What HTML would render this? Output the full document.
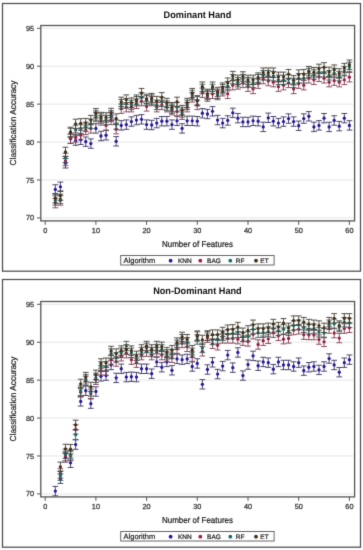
<!DOCTYPE html>
<html><head><meta charset="utf-8"><title>Classification Accuracy</title>
<style>html,body{margin:0;padding:0;background:#fff;}body{width:363px;height:550px;overflow:hidden;}svg{display:block;}</style>
</head><body>
<svg width="363" height="550" viewBox="0 0 363 550" font-family="'Liberation Sans', Arial, sans-serif" text-rendering="geometricPrecision">
<defs><filter id="sm" x="0" y="0" width="1" height="1" color-interpolation-filters="sRGB"><feConvolveMatrix order="3" kernelMatrix="0.0114 0.0842 0.0114 0.0842 0.6176 0.0842 0.0114 0.0842 0.0114" edgeMode="duplicate" preserveAlpha="true"/></filter></defs>
<rect width="363" height="550" fill="#fff"/>
<g filter="url(#sm)">
<rect width="363" height="550" fill="#fff"/>
<rect x="2.5" y="3.5" width="358" height="267.7" fill="none" stroke="#4e4e4e" stroke-width="1.25"/>
<text transform="translate(197.4 18.1) scale(0.955 1)" font-size="9.6" font-weight="bold" text-anchor="middle" fill="#111">Dominant Hand</text>
<line x1="41.8" x2="353.6" y1="217.90" y2="217.90" stroke="#e6e6e6" stroke-width="1"/>
<line x1="41.8" x2="353.6" y1="179.98" y2="179.98" stroke="#e6e6e6" stroke-width="1"/>
<line x1="41.8" x2="353.6" y1="142.06" y2="142.06" stroke="#e6e6e6" stroke-width="1"/>
<line x1="41.8" x2="353.6" y1="104.14" y2="104.14" stroke="#e6e6e6" stroke-width="1"/>
<line x1="41.8" x2="353.6" y1="66.22" y2="66.22" stroke="#e6e6e6" stroke-width="1"/>
<line x1="41.8" x2="353.6" y1="28.30" y2="28.30" stroke="#e6e6e6" stroke-width="1"/>
<path d="M55.34 184.76V194.16M52.44 184.76H58.24M52.44 194.16H58.24" stroke="#393560" stroke-width="0.9" fill="none"/>
<path d="M60.41 182.10V191.51M57.51 182.10H63.31M57.51 191.51H63.31" stroke="#393560" stroke-width="0.9" fill="none"/>
<path d="M65.48 158.59V168.00M62.58 158.59H68.38M62.58 168.00H68.38" stroke="#393560" stroke-width="0.9" fill="none"/>
<path d="M70.55 133.95V143.35M67.65 133.95H73.45M67.65 143.35H73.45" stroke="#393560" stroke-width="0.9" fill="none"/>
<path d="M75.62 135.84V145.25M72.72 135.84H78.52M72.72 145.25H78.52" stroke="#393560" stroke-width="0.9" fill="none"/>
<path d="M80.69 135.08V144.49M77.79 135.08H83.59M77.79 144.49H83.59" stroke="#393560" stroke-width="0.9" fill="none"/>
<path d="M85.76 136.98V146.38M82.86 136.98H88.66M82.86 146.38H88.66" stroke="#393560" stroke-width="0.9" fill="none"/>
<path d="M90.83 138.87V148.28M87.93 138.87H93.73M87.93 148.28H93.73" stroke="#393560" stroke-width="0.9" fill="none"/>
<path d="M95.90 123.71V133.11M93.00 123.71H98.80M93.00 133.11H98.80" stroke="#393560" stroke-width="0.9" fill="none"/>
<path d="M100.97 131.29V140.69M98.07 131.29H103.87M98.07 140.69H103.87" stroke="#393560" stroke-width="0.9" fill="none"/>
<path d="M106.04 130.53V139.94M103.14 130.53H108.94M103.14 139.94H108.94" stroke="#393560" stroke-width="0.9" fill="none"/>
<path d="M111.11 110.81V120.22M108.21 110.81H114.01M108.21 120.22H114.01" stroke="#393560" stroke-width="0.9" fill="none"/>
<path d="M116.18 136.60V146.00M113.28 136.60H119.08M113.28 146.00H119.08" stroke="#393560" stroke-width="0.9" fill="none"/>
<path d="M121.25 120.67V130.08M118.35 120.67H124.15M118.35 130.08H124.15" stroke="#393560" stroke-width="0.9" fill="none"/>
<path d="M126.32 119.91V129.32M123.42 119.91H129.22M123.42 129.32H129.22" stroke="#393560" stroke-width="0.9" fill="none"/>
<path d="M131.39 116.88V126.29M128.49 116.88H134.29M128.49 126.29H134.29" stroke="#393560" stroke-width="0.9" fill="none"/>
<path d="M136.46 115.36V124.77M133.56 115.36H139.36M133.56 124.77H139.36" stroke="#393560" stroke-width="0.9" fill="none"/>
<path d="M141.53 114.61V124.01M138.63 114.61H144.43M138.63 124.01H144.43" stroke="#393560" stroke-width="0.9" fill="none"/>
<path d="M146.60 119.91V129.32M143.70 119.91H149.50M143.70 129.32H149.50" stroke="#393560" stroke-width="0.9" fill="none"/>
<path d="M151.67 120.29V129.70M148.77 120.29H154.57M148.77 129.70H154.57" stroke="#393560" stroke-width="0.9" fill="none"/>
<path d="M156.74 118.40V127.80M153.84 118.40H159.64M153.84 127.80H159.64" stroke="#393560" stroke-width="0.9" fill="none"/>
<path d="M161.81 116.50V125.91M158.91 116.50H164.71M158.91 125.91H164.71" stroke="#393560" stroke-width="0.9" fill="none"/>
<path d="M166.88 116.50V125.91M163.98 116.50H169.78M163.98 125.91H169.78" stroke="#393560" stroke-width="0.9" fill="none"/>
<path d="M171.95 119.91V129.32M169.05 119.91H174.85M169.05 129.32H174.85" stroke="#393560" stroke-width="0.9" fill="none"/>
<path d="M177.02 116.12V125.53M174.12 116.12H179.92M174.12 125.53H179.92" stroke="#393560" stroke-width="0.9" fill="none"/>
<path d="M182.09 123.71V133.11M179.19 123.71H184.99M179.19 133.11H184.99" stroke="#393560" stroke-width="0.9" fill="none"/>
<path d="M187.16 116.12V125.53M184.26 116.12H190.06M184.26 125.53H190.06" stroke="#393560" stroke-width="0.9" fill="none"/>
<path d="M192.23 116.12V125.53M189.33 116.12H195.13M189.33 125.53H195.13" stroke="#393560" stroke-width="0.9" fill="none"/>
<path d="M197.30 116.50V125.91M194.40 116.50H200.20M194.40 125.91H200.20" stroke="#393560" stroke-width="0.9" fill="none"/>
<path d="M202.37 108.54V117.94M199.47 108.54H205.27M199.47 117.94H205.27" stroke="#393560" stroke-width="0.9" fill="none"/>
<path d="M207.44 109.30V118.70M204.54 109.30H210.34M204.54 118.70H210.34" stroke="#393560" stroke-width="0.9" fill="none"/>
<path d="M212.51 106.64V116.05M209.61 106.64H215.41M209.61 116.05H215.41" stroke="#393560" stroke-width="0.9" fill="none"/>
<path d="M217.58 115.36V124.77M214.68 115.36H220.48M214.68 124.77H220.48" stroke="#393560" stroke-width="0.9" fill="none"/>
<path d="M222.65 118.40V127.80M219.75 118.40H225.55M219.75 127.80H225.55" stroke="#393560" stroke-width="0.9" fill="none"/>
<path d="M227.72 115.74V125.15M224.82 115.74H230.62M224.82 125.15H230.62" stroke="#393560" stroke-width="0.9" fill="none"/>
<path d="M232.79 108.16V117.56M229.89 108.16H235.69M229.89 117.56H235.69" stroke="#393560" stroke-width="0.9" fill="none"/>
<path d="M237.86 113.47V122.87M234.96 113.47H240.76M234.96 122.87H240.76" stroke="#393560" stroke-width="0.9" fill="none"/>
<path d="M242.93 117.26V126.66M240.03 117.26H245.83M240.03 126.66H245.83" stroke="#393560" stroke-width="0.9" fill="none"/>
<path d="M248.00 117.26V126.66M245.10 117.26H250.90M245.10 126.66H250.90" stroke="#393560" stroke-width="0.9" fill="none"/>
<path d="M253.07 116.12V125.53M250.17 116.12H255.97M250.17 125.53H255.97" stroke="#393560" stroke-width="0.9" fill="none"/>
<path d="M258.14 116.50V125.91M255.24 116.50H261.04M255.24 125.91H261.04" stroke="#393560" stroke-width="0.9" fill="none"/>
<path d="M263.21 122.19V131.59M260.31 122.19H266.11M260.31 131.59H266.11" stroke="#393560" stroke-width="0.9" fill="none"/>
<path d="M268.28 113.09V122.49M265.38 113.09H271.18M265.38 122.49H271.18" stroke="#393560" stroke-width="0.9" fill="none"/>
<path d="M273.35 116.50V125.91M270.45 116.50H276.25M270.45 125.91H276.25" stroke="#393560" stroke-width="0.9" fill="none"/>
<path d="M278.42 118.40V127.80M275.52 118.40H281.32M275.52 127.80H281.32" stroke="#393560" stroke-width="0.9" fill="none"/>
<path d="M283.49 116.88V126.29M280.59 116.88H286.39M280.59 126.29H286.39" stroke="#393560" stroke-width="0.9" fill="none"/>
<path d="M288.56 113.85V123.25M285.66 113.85H291.46M285.66 123.25H291.46" stroke="#393560" stroke-width="0.9" fill="none"/>
<path d="M293.63 116.88V126.29M290.73 116.88H296.53M290.73 126.29H296.53" stroke="#393560" stroke-width="0.9" fill="none"/>
<path d="M298.70 121.05V130.46M295.80 121.05H301.60M295.80 130.46H301.60" stroke="#393560" stroke-width="0.9" fill="none"/>
<path d="M303.77 113.85V123.25M300.87 113.85H306.67M300.87 123.25H306.67" stroke="#393560" stroke-width="0.9" fill="none"/>
<path d="M308.84 111.57V120.98M305.94 111.57H311.74M305.94 120.98H311.74" stroke="#393560" stroke-width="0.9" fill="none"/>
<path d="M313.91 122.19V131.59M311.01 122.19H316.81M311.01 131.59H316.81" stroke="#393560" stroke-width="0.9" fill="none"/>
<path d="M318.98 120.67V130.08M316.08 120.67H321.88M316.08 130.08H321.88" stroke="#393560" stroke-width="0.9" fill="none"/>
<path d="M324.05 113.47V122.87M321.15 113.47H326.95M321.15 122.87H326.95" stroke="#393560" stroke-width="0.9" fill="none"/>
<path d="M329.12 122.19V131.59M326.22 122.19H332.02M326.22 131.59H332.02" stroke="#393560" stroke-width="0.9" fill="none"/>
<path d="M334.19 115.74V125.15M331.29 115.74H337.09M331.29 125.15H337.09" stroke="#393560" stroke-width="0.9" fill="none"/>
<path d="M339.26 121.43V130.84M336.36 121.43H342.16M336.36 130.84H342.16" stroke="#393560" stroke-width="0.9" fill="none"/>
<path d="M344.33 113.47V122.87M341.43 113.47H347.23M341.43 122.87H347.23" stroke="#393560" stroke-width="0.9" fill="none"/>
<path d="M349.40 120.67V130.08M346.50 120.67H352.30M346.50 130.08H352.30" stroke="#393560" stroke-width="0.9" fill="none"/>
<circle cx="55.34" cy="189.46" r="1.65" fill="#2418a0"/>
<circle cx="60.41" cy="186.81" r="1.65" fill="#2418a0"/>
<circle cx="65.48" cy="163.30" r="1.65" fill="#2418a0"/>
<circle cx="70.55" cy="138.65" r="1.65" fill="#2418a0"/>
<circle cx="75.62" cy="140.54" r="1.65" fill="#2418a0"/>
<circle cx="80.69" cy="139.78" r="1.65" fill="#2418a0"/>
<circle cx="85.76" cy="141.68" r="1.65" fill="#2418a0"/>
<circle cx="90.83" cy="143.58" r="1.65" fill="#2418a0"/>
<circle cx="95.90" cy="128.41" r="1.65" fill="#2418a0"/>
<circle cx="100.97" cy="135.99" r="1.65" fill="#2418a0"/>
<circle cx="106.04" cy="135.23" r="1.65" fill="#2418a0"/>
<circle cx="111.11" cy="115.52" r="1.65" fill="#2418a0"/>
<circle cx="116.18" cy="141.30" r="1.65" fill="#2418a0"/>
<circle cx="121.25" cy="125.38" r="1.65" fill="#2418a0"/>
<circle cx="126.32" cy="124.62" r="1.65" fill="#2418a0"/>
<circle cx="131.39" cy="121.58" r="1.65" fill="#2418a0"/>
<circle cx="136.46" cy="120.07" r="1.65" fill="#2418a0"/>
<circle cx="141.53" cy="119.31" r="1.65" fill="#2418a0"/>
<circle cx="146.60" cy="124.62" r="1.65" fill="#2418a0"/>
<circle cx="151.67" cy="125.00" r="1.65" fill="#2418a0"/>
<circle cx="156.74" cy="123.10" r="1.65" fill="#2418a0"/>
<circle cx="161.81" cy="121.20" r="1.65" fill="#2418a0"/>
<circle cx="166.88" cy="121.20" r="1.65" fill="#2418a0"/>
<circle cx="171.95" cy="124.62" r="1.65" fill="#2418a0"/>
<circle cx="177.02" cy="120.82" r="1.65" fill="#2418a0"/>
<circle cx="182.09" cy="128.41" r="1.65" fill="#2418a0"/>
<circle cx="187.16" cy="120.82" r="1.65" fill="#2418a0"/>
<circle cx="192.23" cy="120.82" r="1.65" fill="#2418a0"/>
<circle cx="197.30" cy="121.20" r="1.65" fill="#2418a0"/>
<circle cx="202.37" cy="113.24" r="1.65" fill="#2418a0"/>
<circle cx="207.44" cy="114.00" r="1.65" fill="#2418a0"/>
<circle cx="212.51" cy="111.34" r="1.65" fill="#2418a0"/>
<circle cx="217.58" cy="120.07" r="1.65" fill="#2418a0"/>
<circle cx="222.65" cy="123.10" r="1.65" fill="#2418a0"/>
<circle cx="227.72" cy="120.45" r="1.65" fill="#2418a0"/>
<circle cx="232.79" cy="112.86" r="1.65" fill="#2418a0"/>
<circle cx="237.86" cy="118.17" r="1.65" fill="#2418a0"/>
<circle cx="242.93" cy="121.96" r="1.65" fill="#2418a0"/>
<circle cx="248.00" cy="121.96" r="1.65" fill="#2418a0"/>
<circle cx="253.07" cy="120.82" r="1.65" fill="#2418a0"/>
<circle cx="258.14" cy="121.20" r="1.65" fill="#2418a0"/>
<circle cx="263.21" cy="126.89" r="1.65" fill="#2418a0"/>
<circle cx="268.28" cy="117.79" r="1.65" fill="#2418a0"/>
<circle cx="273.35" cy="121.20" r="1.65" fill="#2418a0"/>
<circle cx="278.42" cy="123.10" r="1.65" fill="#2418a0"/>
<circle cx="283.49" cy="121.58" r="1.65" fill="#2418a0"/>
<circle cx="288.56" cy="118.55" r="1.65" fill="#2418a0"/>
<circle cx="293.63" cy="121.58" r="1.65" fill="#2418a0"/>
<circle cx="298.70" cy="125.75" r="1.65" fill="#2418a0"/>
<circle cx="303.77" cy="118.55" r="1.65" fill="#2418a0"/>
<circle cx="308.84" cy="116.27" r="1.65" fill="#2418a0"/>
<circle cx="313.91" cy="126.89" r="1.65" fill="#2418a0"/>
<circle cx="318.98" cy="125.38" r="1.65" fill="#2418a0"/>
<circle cx="324.05" cy="118.17" r="1.65" fill="#2418a0"/>
<circle cx="329.12" cy="126.89" r="1.65" fill="#2418a0"/>
<circle cx="334.19" cy="120.45" r="1.65" fill="#2418a0"/>
<circle cx="339.26" cy="126.13" r="1.65" fill="#2418a0"/>
<circle cx="344.33" cy="118.17" r="1.65" fill="#2418a0"/>
<circle cx="349.40" cy="125.38" r="1.65" fill="#2418a0"/>
<path d="M55.34 198.41V207.81M52.44 198.41H58.24M52.44 207.81H58.24" stroke="#7e3c4c" stroke-width="0.9" fill="none"/>
<path d="M60.41 195.75V205.16M57.51 195.75H63.31M57.51 205.16H63.31" stroke="#7e3c4c" stroke-width="0.9" fill="none"/>
<path d="M65.48 156.32V165.72M62.58 156.32H68.38M62.58 165.72H68.38" stroke="#7e3c4c" stroke-width="0.9" fill="none"/>
<path d="M70.55 134.02V143.43M67.65 134.02H73.45M67.65 143.43H73.45" stroke="#7e3c4c" stroke-width="0.9" fill="none"/>
<path d="M75.62 132.81V142.21M72.72 132.81H78.52M72.72 142.21H78.52" stroke="#7e3c4c" stroke-width="0.9" fill="none"/>
<path d="M80.69 130.30V139.71M77.79 130.30H83.59M77.79 139.71H83.59" stroke="#7e3c4c" stroke-width="0.9" fill="none"/>
<path d="M85.76 125.22V134.63M82.86 125.22H88.66M82.86 134.63H88.66" stroke="#7e3c4c" stroke-width="0.9" fill="none"/>
<path d="M90.83 123.71V133.11M87.93 123.71H93.73M87.93 133.11H93.73" stroke="#7e3c4c" stroke-width="0.9" fill="none"/>
<path d="M95.90 112.33V121.73M93.00 112.33H98.80M93.00 121.73H98.80" stroke="#7e3c4c" stroke-width="0.9" fill="none"/>
<path d="M100.97 115.74V125.15M98.07 115.74H103.87M98.07 125.15H103.87" stroke="#7e3c4c" stroke-width="0.9" fill="none"/>
<path d="M106.04 120.67V130.08M103.14 120.67H108.94M103.14 130.08H108.94" stroke="#7e3c4c" stroke-width="0.9" fill="none"/>
<path d="M111.11 115.21V124.62M108.21 115.21H114.01M108.21 124.62H114.01" stroke="#7e3c4c" stroke-width="0.9" fill="none"/>
<path d="M116.18 124.47V133.87M113.28 124.47H119.08M113.28 133.87H119.08" stroke="#7e3c4c" stroke-width="0.9" fill="none"/>
<path d="M121.25 103.99V113.39M118.35 103.99H124.15M118.35 113.39H124.15" stroke="#7e3c4c" stroke-width="0.9" fill="none"/>
<path d="M126.32 102.47V111.88M123.42 102.47H129.22M123.42 111.88H129.22" stroke="#7e3c4c" stroke-width="0.9" fill="none"/>
<path d="M131.39 102.47V111.88M128.49 102.47H134.29M128.49 111.88H134.29" stroke="#7e3c4c" stroke-width="0.9" fill="none"/>
<path d="M136.46 99.06V108.46M133.56 99.06H139.36M133.56 108.46H139.36" stroke="#7e3c4c" stroke-width="0.9" fill="none"/>
<path d="M141.53 96.40V105.81M138.63 96.40H144.43M138.63 105.81H144.43" stroke="#7e3c4c" stroke-width="0.9" fill="none"/>
<path d="M146.60 101.71V111.12M143.70 101.71H149.50M143.70 111.12H149.50" stroke="#7e3c4c" stroke-width="0.9" fill="none"/>
<path d="M151.67 96.40V105.81M148.77 96.40H154.57M148.77 105.81H154.57" stroke="#7e3c4c" stroke-width="0.9" fill="none"/>
<path d="M156.74 102.47V111.88M153.84 102.47H159.64M153.84 111.88H159.64" stroke="#7e3c4c" stroke-width="0.9" fill="none"/>
<path d="M161.81 100.20V109.60M158.91 100.20H164.71M158.91 109.60H164.71" stroke="#7e3c4c" stroke-width="0.9" fill="none"/>
<path d="M166.88 102.47V111.88M163.98 102.47H169.78M163.98 111.88H169.78" stroke="#7e3c4c" stroke-width="0.9" fill="none"/>
<path d="M171.95 105.51V114.91M169.05 105.51H174.85M169.05 114.91H174.85" stroke="#7e3c4c" stroke-width="0.9" fill="none"/>
<path d="M177.02 106.64V116.05M174.12 106.64H179.92M174.12 116.05H179.92" stroke="#7e3c4c" stroke-width="0.9" fill="none"/>
<path d="M182.09 110.06V119.46M179.19 110.06H184.99M179.19 119.46H184.99" stroke="#7e3c4c" stroke-width="0.9" fill="none"/>
<path d="M187.16 102.47V111.88M184.26 102.47H190.06M184.26 111.88H190.06" stroke="#7e3c4c" stroke-width="0.9" fill="none"/>
<path d="M192.23 92.61V102.02M189.33 92.61H195.13M189.33 102.02H195.13" stroke="#7e3c4c" stroke-width="0.9" fill="none"/>
<path d="M197.30 100.20V109.60M194.40 100.20H200.20M194.40 109.60H200.20" stroke="#7e3c4c" stroke-width="0.9" fill="none"/>
<path d="M202.37 88.06V97.47M199.47 88.06H205.27M199.47 97.47H205.27" stroke="#7e3c4c" stroke-width="0.9" fill="none"/>
<path d="M207.44 91.85V101.26M204.54 91.85H210.34M204.54 101.26H210.34" stroke="#7e3c4c" stroke-width="0.9" fill="none"/>
<path d="M212.51 89.20V98.60M209.61 89.20H215.41M209.61 98.60H215.41" stroke="#7e3c4c" stroke-width="0.9" fill="none"/>
<path d="M217.58 90.34V99.74M214.68 90.34H220.48M214.68 99.74H220.48" stroke="#7e3c4c" stroke-width="0.9" fill="none"/>
<path d="M222.65 86.55V95.95M219.75 86.55H225.55M219.75 95.95H225.55" stroke="#7e3c4c" stroke-width="0.9" fill="none"/>
<path d="M227.72 89.12V98.53M224.82 89.12H230.62M224.82 98.53H230.62" stroke="#7e3c4c" stroke-width="0.9" fill="none"/>
<path d="M232.79 80.48V89.88M229.89 80.48H235.69M229.89 89.88H235.69" stroke="#7e3c4c" stroke-width="0.9" fill="none"/>
<path d="M237.86 79.72V89.12M234.96 79.72H240.76M234.96 89.12H240.76" stroke="#7e3c4c" stroke-width="0.9" fill="none"/>
<path d="M242.93 78.20V87.61M240.03 78.20H245.83M240.03 87.61H245.83" stroke="#7e3c4c" stroke-width="0.9" fill="none"/>
<path d="M248.00 81.99V91.40M245.10 81.99H250.90M245.10 91.40H250.90" stroke="#7e3c4c" stroke-width="0.9" fill="none"/>
<path d="M253.07 84.27V93.67M250.17 84.27H255.97M250.17 93.67H255.97" stroke="#7e3c4c" stroke-width="0.9" fill="none"/>
<path d="M258.14 78.96V88.37M255.24 78.96H261.04M255.24 88.37H261.04" stroke="#7e3c4c" stroke-width="0.9" fill="none"/>
<path d="M263.21 74.41V83.81M260.31 74.41H266.11M260.31 83.81H266.11" stroke="#7e3c4c" stroke-width="0.9" fill="none"/>
<path d="M268.28 76.31V85.71M265.38 76.31H271.18M265.38 85.71H271.18" stroke="#7e3c4c" stroke-width="0.9" fill="none"/>
<path d="M273.35 77.44V86.85M270.45 77.44H276.25M270.45 86.85H276.25" stroke="#7e3c4c" stroke-width="0.9" fill="none"/>
<path d="M278.42 81.99V91.40M275.52 81.99H281.32M275.52 91.40H281.32" stroke="#7e3c4c" stroke-width="0.9" fill="none"/>
<path d="M283.49 80.48V89.88M280.59 80.48H286.39M280.59 89.88H286.39" stroke="#7e3c4c" stroke-width="0.9" fill="none"/>
<path d="M288.56 78.20V87.61M285.66 78.20H291.46M285.66 87.61H291.46" stroke="#7e3c4c" stroke-width="0.9" fill="none"/>
<path d="M293.63 84.27V93.67M290.73 84.27H296.53M290.73 93.67H296.53" stroke="#7e3c4c" stroke-width="0.9" fill="none"/>
<path d="M298.70 78.96V88.37M295.80 78.96H301.60M295.80 88.37H301.60" stroke="#7e3c4c" stroke-width="0.9" fill="none"/>
<path d="M303.77 80.48V89.88M300.87 80.48H306.67M300.87 89.88H306.67" stroke="#7e3c4c" stroke-width="0.9" fill="none"/>
<path d="M308.84 73.65V83.06M305.94 73.65H311.74M305.94 83.06H311.74" stroke="#7e3c4c" stroke-width="0.9" fill="none"/>
<path d="M313.91 75.17V84.57M311.01 75.17H316.81M311.01 84.57H316.81" stroke="#7e3c4c" stroke-width="0.9" fill="none"/>
<path d="M318.98 72.14V81.54M316.08 72.14H321.88M316.08 81.54H321.88" stroke="#7e3c4c" stroke-width="0.9" fill="none"/>
<path d="M324.05 73.65V83.06M321.15 73.65H326.95M321.15 83.06H326.95" stroke="#7e3c4c" stroke-width="0.9" fill="none"/>
<path d="M329.12 77.44V86.85M326.22 77.44H332.02M326.22 86.85H332.02" stroke="#7e3c4c" stroke-width="0.9" fill="none"/>
<path d="M334.19 75.93V85.33M331.29 75.93H337.09M331.29 85.33H337.09" stroke="#7e3c4c" stroke-width="0.9" fill="none"/>
<path d="M339.26 77.44V86.85M336.36 77.44H342.16M336.36 86.85H342.16" stroke="#7e3c4c" stroke-width="0.9" fill="none"/>
<path d="M344.33 75.17V84.57M341.43 75.17H347.23M341.43 84.57H347.23" stroke="#7e3c4c" stroke-width="0.9" fill="none"/>
<path d="M349.40 72.51V81.92M346.50 72.51H352.30M346.50 81.92H352.30" stroke="#7e3c4c" stroke-width="0.9" fill="none"/>
<circle cx="55.34" cy="203.11" r="1.65" fill="#a01a42"/>
<circle cx="60.41" cy="200.46" r="1.65" fill="#a01a42"/>
<circle cx="65.48" cy="161.02" r="1.65" fill="#a01a42"/>
<circle cx="70.55" cy="138.72" r="1.65" fill="#a01a42"/>
<circle cx="75.62" cy="137.51" r="1.65" fill="#a01a42"/>
<circle cx="80.69" cy="135.01" r="1.65" fill="#a01a42"/>
<circle cx="85.76" cy="129.93" r="1.65" fill="#a01a42"/>
<circle cx="90.83" cy="128.41" r="1.65" fill="#a01a42"/>
<circle cx="95.90" cy="117.03" r="1.65" fill="#a01a42"/>
<circle cx="100.97" cy="120.45" r="1.65" fill="#a01a42"/>
<circle cx="106.04" cy="125.38" r="1.65" fill="#a01a42"/>
<circle cx="111.11" cy="119.91" r="1.65" fill="#a01a42"/>
<circle cx="116.18" cy="129.17" r="1.65" fill="#a01a42"/>
<circle cx="121.25" cy="108.69" r="1.65" fill="#a01a42"/>
<circle cx="126.32" cy="107.17" r="1.65" fill="#a01a42"/>
<circle cx="131.39" cy="107.17" r="1.65" fill="#a01a42"/>
<circle cx="136.46" cy="103.76" r="1.65" fill="#a01a42"/>
<circle cx="141.53" cy="101.11" r="1.65" fill="#a01a42"/>
<circle cx="146.60" cy="106.42" r="1.65" fill="#a01a42"/>
<circle cx="151.67" cy="101.11" r="1.65" fill="#a01a42"/>
<circle cx="156.74" cy="107.17" r="1.65" fill="#a01a42"/>
<circle cx="161.81" cy="104.90" r="1.65" fill="#a01a42"/>
<circle cx="166.88" cy="107.17" r="1.65" fill="#a01a42"/>
<circle cx="171.95" cy="110.21" r="1.65" fill="#a01a42"/>
<circle cx="177.02" cy="111.34" r="1.65" fill="#a01a42"/>
<circle cx="182.09" cy="114.76" r="1.65" fill="#a01a42"/>
<circle cx="187.16" cy="107.17" r="1.65" fill="#a01a42"/>
<circle cx="192.23" cy="97.31" r="1.65" fill="#a01a42"/>
<circle cx="197.30" cy="104.90" r="1.65" fill="#a01a42"/>
<circle cx="202.37" cy="92.76" r="1.65" fill="#a01a42"/>
<circle cx="207.44" cy="96.56" r="1.65" fill="#a01a42"/>
<circle cx="212.51" cy="93.90" r="1.65" fill="#a01a42"/>
<circle cx="217.58" cy="95.04" r="1.65" fill="#a01a42"/>
<circle cx="222.65" cy="91.25" r="1.65" fill="#a01a42"/>
<circle cx="227.72" cy="93.83" r="1.65" fill="#a01a42"/>
<circle cx="232.79" cy="85.18" r="1.65" fill="#a01a42"/>
<circle cx="237.86" cy="84.42" r="1.65" fill="#a01a42"/>
<circle cx="242.93" cy="82.90" r="1.65" fill="#a01a42"/>
<circle cx="248.00" cy="86.70" r="1.65" fill="#a01a42"/>
<circle cx="253.07" cy="88.97" r="1.65" fill="#a01a42"/>
<circle cx="258.14" cy="83.66" r="1.65" fill="#a01a42"/>
<circle cx="263.21" cy="79.11" r="1.65" fill="#a01a42"/>
<circle cx="268.28" cy="81.01" r="1.65" fill="#a01a42"/>
<circle cx="273.35" cy="82.15" r="1.65" fill="#a01a42"/>
<circle cx="278.42" cy="86.70" r="1.65" fill="#a01a42"/>
<circle cx="283.49" cy="85.18" r="1.65" fill="#a01a42"/>
<circle cx="288.56" cy="82.90" r="1.65" fill="#a01a42"/>
<circle cx="293.63" cy="88.97" r="1.65" fill="#a01a42"/>
<circle cx="298.70" cy="83.66" r="1.65" fill="#a01a42"/>
<circle cx="303.77" cy="85.18" r="1.65" fill="#a01a42"/>
<circle cx="308.84" cy="78.35" r="1.65" fill="#a01a42"/>
<circle cx="313.91" cy="79.87" r="1.65" fill="#a01a42"/>
<circle cx="318.98" cy="76.84" r="1.65" fill="#a01a42"/>
<circle cx="324.05" cy="78.35" r="1.65" fill="#a01a42"/>
<circle cx="329.12" cy="82.15" r="1.65" fill="#a01a42"/>
<circle cx="334.19" cy="80.63" r="1.65" fill="#a01a42"/>
<circle cx="339.26" cy="82.15" r="1.65" fill="#a01a42"/>
<circle cx="344.33" cy="79.87" r="1.65" fill="#a01a42"/>
<circle cx="349.40" cy="77.22" r="1.65" fill="#a01a42"/>
<path d="M55.34 195.75V205.16M52.44 195.75H58.24M52.44 205.16H58.24" stroke="#335a56" stroke-width="0.9" fill="none"/>
<path d="M60.41 194.24V203.64M57.51 194.24H63.31M57.51 203.64H63.31" stroke="#335a56" stroke-width="0.9" fill="none"/>
<path d="M65.48 153.28V162.69M62.58 153.28H68.38M62.58 162.69H68.38" stroke="#335a56" stroke-width="0.9" fill="none"/>
<path d="M70.55 128.26V137.66M67.65 128.26H73.45M67.65 137.66H73.45" stroke="#335a56" stroke-width="0.9" fill="none"/>
<path d="M75.62 125.22V134.63M72.72 125.22H78.52M72.72 134.63H78.52" stroke="#335a56" stroke-width="0.9" fill="none"/>
<path d="M80.69 124.09V133.49M77.79 124.09H83.59M77.79 133.49H83.59" stroke="#335a56" stroke-width="0.9" fill="none"/>
<path d="M85.76 122.19V131.59M82.86 122.19H88.66M82.86 131.59H88.66" stroke="#335a56" stroke-width="0.9" fill="none"/>
<path d="M90.83 119.16V128.56M87.93 119.16H93.73M87.93 128.56H93.73" stroke="#335a56" stroke-width="0.9" fill="none"/>
<path d="M95.90 110.81V120.22M93.00 110.81H98.80M93.00 120.22H98.80" stroke="#335a56" stroke-width="0.9" fill="none"/>
<path d="M100.97 113.85V123.25M98.07 113.85H103.87M98.07 123.25H103.87" stroke="#335a56" stroke-width="0.9" fill="none"/>
<path d="M106.04 115.36V124.77M103.14 115.36H108.94M103.14 124.77H108.94" stroke="#335a56" stroke-width="0.9" fill="none"/>
<path d="M111.11 112.33V121.73M108.21 112.33H114.01M108.21 121.73H114.01" stroke="#335a56" stroke-width="0.9" fill="none"/>
<path d="M116.18 119.91V129.32M113.28 119.91H119.08M113.28 129.32H119.08" stroke="#335a56" stroke-width="0.9" fill="none"/>
<path d="M121.25 99.44V108.84M118.35 99.44H124.15M118.35 108.84H124.15" stroke="#335a56" stroke-width="0.9" fill="none"/>
<path d="M126.32 98.68V108.08M123.42 98.68H129.22M123.42 108.08H129.22" stroke="#335a56" stroke-width="0.9" fill="none"/>
<path d="M131.39 100.20V109.60M128.49 100.20H134.29M128.49 109.60H134.29" stroke="#335a56" stroke-width="0.9" fill="none"/>
<path d="M136.46 94.89V104.29M133.56 94.89H139.36M133.56 104.29H139.36" stroke="#335a56" stroke-width="0.9" fill="none"/>
<path d="M141.53 92.61V102.02M138.63 92.61H144.43M138.63 102.02H144.43" stroke="#335a56" stroke-width="0.9" fill="none"/>
<path d="M146.60 95.65V105.05M143.70 95.65H149.50M143.70 105.05H149.50" stroke="#335a56" stroke-width="0.9" fill="none"/>
<path d="M151.67 94.89V104.29M148.77 94.89H154.57M148.77 104.29H154.57" stroke="#335a56" stroke-width="0.9" fill="none"/>
<path d="M156.74 100.20V109.60M153.84 100.20H159.64M153.84 109.60H159.64" stroke="#335a56" stroke-width="0.9" fill="none"/>
<path d="M161.81 97.16V106.57M158.91 97.16H164.71M158.91 106.57H164.71" stroke="#335a56" stroke-width="0.9" fill="none"/>
<path d="M166.88 100.95V110.36M163.98 100.95H169.78M163.98 110.36H169.78" stroke="#335a56" stroke-width="0.9" fill="none"/>
<path d="M171.95 103.99V113.39M169.05 103.99H174.85M169.05 113.39H174.85" stroke="#335a56" stroke-width="0.9" fill="none"/>
<path d="M177.02 102.47V111.88M174.12 102.47H179.92M174.12 111.88H179.92" stroke="#335a56" stroke-width="0.9" fill="none"/>
<path d="M182.09 107.78V117.18M179.19 107.78H184.99M179.19 117.18H184.99" stroke="#335a56" stroke-width="0.9" fill="none"/>
<path d="M187.16 100.20V109.60M184.26 100.20H190.06M184.26 109.60H190.06" stroke="#335a56" stroke-width="0.9" fill="none"/>
<path d="M192.23 90.34V99.74M189.33 90.34H195.13M189.33 99.74H195.13" stroke="#335a56" stroke-width="0.9" fill="none"/>
<path d="M197.30 96.40V105.81M194.40 96.40H200.20M194.40 105.81H200.20" stroke="#335a56" stroke-width="0.9" fill="none"/>
<path d="M202.37 84.27V93.67M199.47 84.27H205.27M199.47 93.67H205.27" stroke="#335a56" stroke-width="0.9" fill="none"/>
<path d="M207.44 90.34V99.74M204.54 90.34H210.34M204.54 99.74H210.34" stroke="#335a56" stroke-width="0.9" fill="none"/>
<path d="M212.51 84.27V93.67M209.61 84.27H215.41M209.61 93.67H215.41" stroke="#335a56" stroke-width="0.9" fill="none"/>
<path d="M217.58 89.12V98.53M214.68 89.12H220.48M214.68 98.53H220.48" stroke="#335a56" stroke-width="0.9" fill="none"/>
<path d="M222.65 84.57V93.98M219.75 84.57H225.55M219.75 93.98H225.55" stroke="#335a56" stroke-width="0.9" fill="none"/>
<path d="M227.72 81.46V90.87M224.82 81.46H230.62M224.82 90.87H230.62" stroke="#335a56" stroke-width="0.9" fill="none"/>
<path d="M232.79 74.41V83.81M229.89 74.41H235.69M229.89 83.81H235.69" stroke="#335a56" stroke-width="0.9" fill="none"/>
<path d="M237.86 77.44V86.85M234.96 77.44H240.76M234.96 86.85H240.76" stroke="#335a56" stroke-width="0.9" fill="none"/>
<path d="M242.93 74.41V83.81M240.03 74.41H245.83M240.03 83.81H245.83" stroke="#335a56" stroke-width="0.9" fill="none"/>
<path d="M248.00 77.44V86.85M245.10 77.44H250.90M245.10 86.85H250.90" stroke="#335a56" stroke-width="0.9" fill="none"/>
<path d="M253.07 78.20V87.61M250.17 78.20H255.97M250.17 87.61H255.97" stroke="#335a56" stroke-width="0.9" fill="none"/>
<path d="M258.14 74.41V83.81M255.24 74.41H261.04M255.24 83.81H261.04" stroke="#335a56" stroke-width="0.9" fill="none"/>
<path d="M263.21 70.62V80.02M260.31 70.62H266.11M260.31 80.02H266.11" stroke="#335a56" stroke-width="0.9" fill="none"/>
<path d="M268.28 70.62V80.02M265.38 70.62H271.18M265.38 80.02H271.18" stroke="#335a56" stroke-width="0.9" fill="none"/>
<path d="M273.35 71.38V80.78M270.45 71.38H276.25M270.45 80.78H276.25" stroke="#335a56" stroke-width="0.9" fill="none"/>
<path d="M278.42 75.17V84.57M275.52 75.17H281.32M275.52 84.57H281.32" stroke="#335a56" stroke-width="0.9" fill="none"/>
<path d="M283.49 75.17V84.57M280.59 75.17H286.39M280.59 84.57H286.39" stroke="#335a56" stroke-width="0.9" fill="none"/>
<path d="M288.56 74.41V83.81M285.66 74.41H291.46M285.66 83.81H291.46" stroke="#335a56" stroke-width="0.9" fill="none"/>
<path d="M293.63 78.20V87.61M290.73 78.20H296.53M290.73 87.61H296.53" stroke="#335a56" stroke-width="0.9" fill="none"/>
<path d="M298.70 73.65V83.06M295.80 73.65H301.60M295.80 83.06H301.60" stroke="#335a56" stroke-width="0.9" fill="none"/>
<path d="M303.77 73.65V83.06M300.87 73.65H306.67M300.87 83.06H306.67" stroke="#335a56" stroke-width="0.9" fill="none"/>
<path d="M308.84 68.34V77.75M305.94 68.34H311.74M305.94 77.75H311.74" stroke="#335a56" stroke-width="0.9" fill="none"/>
<path d="M313.91 69.86V79.26M311.01 69.86H316.81M311.01 79.26H316.81" stroke="#335a56" stroke-width="0.9" fill="none"/>
<path d="M318.98 67.59V76.99M316.08 67.59H321.88M316.08 76.99H321.88" stroke="#335a56" stroke-width="0.9" fill="none"/>
<path d="M324.05 67.59V76.99M321.15 67.59H326.95M321.15 76.99H326.95" stroke="#335a56" stroke-width="0.9" fill="none"/>
<path d="M329.12 70.62V80.02M326.22 70.62H332.02M326.22 80.02H332.02" stroke="#335a56" stroke-width="0.9" fill="none"/>
<path d="M334.19 68.34V77.75M331.29 68.34H337.09M331.29 77.75H337.09" stroke="#335a56" stroke-width="0.9" fill="none"/>
<path d="M339.26 71.38V80.78M336.36 71.38H342.16M336.36 80.78H342.16" stroke="#335a56" stroke-width="0.9" fill="none"/>
<path d="M344.33 66.45V75.85M341.43 66.45H347.23M341.43 75.85H347.23" stroke="#335a56" stroke-width="0.9" fill="none"/>
<path d="M349.40 62.28V71.68M346.50 62.28H352.30M346.50 71.68H352.30" stroke="#335a56" stroke-width="0.9" fill="none"/>
<circle cx="55.34" cy="200.46" r="1.65" fill="#127064"/>
<circle cx="60.41" cy="198.94" r="1.65" fill="#127064"/>
<circle cx="65.48" cy="157.99" r="1.65" fill="#127064"/>
<circle cx="70.55" cy="132.96" r="1.65" fill="#127064"/>
<circle cx="75.62" cy="129.93" r="1.65" fill="#127064"/>
<circle cx="80.69" cy="128.79" r="1.65" fill="#127064"/>
<circle cx="85.76" cy="126.89" r="1.65" fill="#127064"/>
<circle cx="90.83" cy="123.86" r="1.65" fill="#127064"/>
<circle cx="95.90" cy="115.52" r="1.65" fill="#127064"/>
<circle cx="100.97" cy="118.55" r="1.65" fill="#127064"/>
<circle cx="106.04" cy="120.07" r="1.65" fill="#127064"/>
<circle cx="111.11" cy="117.03" r="1.65" fill="#127064"/>
<circle cx="116.18" cy="124.62" r="1.65" fill="#127064"/>
<circle cx="121.25" cy="104.14" r="1.65" fill="#127064"/>
<circle cx="126.32" cy="103.38" r="1.65" fill="#127064"/>
<circle cx="131.39" cy="104.90" r="1.65" fill="#127064"/>
<circle cx="136.46" cy="99.59" r="1.65" fill="#127064"/>
<circle cx="141.53" cy="97.31" r="1.65" fill="#127064"/>
<circle cx="146.60" cy="100.35" r="1.65" fill="#127064"/>
<circle cx="151.67" cy="99.59" r="1.65" fill="#127064"/>
<circle cx="156.74" cy="104.90" r="1.65" fill="#127064"/>
<circle cx="161.81" cy="101.86" r="1.65" fill="#127064"/>
<circle cx="166.88" cy="105.66" r="1.65" fill="#127064"/>
<circle cx="171.95" cy="108.69" r="1.65" fill="#127064"/>
<circle cx="177.02" cy="107.17" r="1.65" fill="#127064"/>
<circle cx="182.09" cy="112.48" r="1.65" fill="#127064"/>
<circle cx="187.16" cy="104.90" r="1.65" fill="#127064"/>
<circle cx="192.23" cy="95.04" r="1.65" fill="#127064"/>
<circle cx="197.30" cy="101.11" r="1.65" fill="#127064"/>
<circle cx="202.37" cy="88.97" r="1.65" fill="#127064"/>
<circle cx="207.44" cy="95.04" r="1.65" fill="#127064"/>
<circle cx="212.51" cy="88.97" r="1.65" fill="#127064"/>
<circle cx="217.58" cy="93.83" r="1.65" fill="#127064"/>
<circle cx="222.65" cy="89.28" r="1.65" fill="#127064"/>
<circle cx="227.72" cy="86.17" r="1.65" fill="#127064"/>
<circle cx="232.79" cy="79.11" r="1.65" fill="#127064"/>
<circle cx="237.86" cy="82.15" r="1.65" fill="#127064"/>
<circle cx="242.93" cy="79.11" r="1.65" fill="#127064"/>
<circle cx="248.00" cy="82.15" r="1.65" fill="#127064"/>
<circle cx="253.07" cy="82.90" r="1.65" fill="#127064"/>
<circle cx="258.14" cy="79.11" r="1.65" fill="#127064"/>
<circle cx="263.21" cy="75.32" r="1.65" fill="#127064"/>
<circle cx="268.28" cy="75.32" r="1.65" fill="#127064"/>
<circle cx="273.35" cy="76.08" r="1.65" fill="#127064"/>
<circle cx="278.42" cy="79.87" r="1.65" fill="#127064"/>
<circle cx="283.49" cy="79.87" r="1.65" fill="#127064"/>
<circle cx="288.56" cy="79.11" r="1.65" fill="#127064"/>
<circle cx="293.63" cy="82.90" r="1.65" fill="#127064"/>
<circle cx="298.70" cy="78.35" r="1.65" fill="#127064"/>
<circle cx="303.77" cy="78.35" r="1.65" fill="#127064"/>
<circle cx="308.84" cy="73.05" r="1.65" fill="#127064"/>
<circle cx="313.91" cy="74.56" r="1.65" fill="#127064"/>
<circle cx="318.98" cy="72.29" r="1.65" fill="#127064"/>
<circle cx="324.05" cy="72.29" r="1.65" fill="#127064"/>
<circle cx="329.12" cy="75.32" r="1.65" fill="#127064"/>
<circle cx="334.19" cy="73.05" r="1.65" fill="#127064"/>
<circle cx="339.26" cy="76.08" r="1.65" fill="#127064"/>
<circle cx="344.33" cy="71.15" r="1.65" fill="#127064"/>
<circle cx="349.40" cy="66.98" r="1.65" fill="#127064"/>
<path d="M55.34 193.48V202.88M52.44 193.48H58.24M52.44 202.88H58.24" stroke="#463e32" stroke-width="0.9" fill="none"/>
<path d="M60.41 190.83V200.23M57.51 190.83H63.31M57.51 200.23H63.31" stroke="#463e32" stroke-width="0.9" fill="none"/>
<path d="M65.48 147.22V156.62M62.58 147.22H68.38M62.58 156.62H68.38" stroke="#463e32" stroke-width="0.9" fill="none"/>
<path d="M70.55 127.20V136.60M67.65 127.20H73.45M67.65 136.60H73.45" stroke="#463e32" stroke-width="0.9" fill="none"/>
<path d="M75.62 119.16V128.56M72.72 119.16H78.52M72.72 128.56H78.52" stroke="#463e32" stroke-width="0.9" fill="none"/>
<path d="M80.69 118.70V128.11M77.79 118.70H83.59M77.79 128.11H83.59" stroke="#463e32" stroke-width="0.9" fill="none"/>
<path d="M85.76 118.40V127.80M82.86 118.40H88.66M82.86 127.80H88.66" stroke="#463e32" stroke-width="0.9" fill="none"/>
<path d="M90.83 115.36V124.77M87.93 115.36H93.73M87.93 124.77H93.73" stroke="#463e32" stroke-width="0.9" fill="none"/>
<path d="M95.90 108.54V117.94M93.00 108.54H98.80M93.00 117.94H98.80" stroke="#463e32" stroke-width="0.9" fill="none"/>
<path d="M100.97 112.33V121.73M98.07 112.33H103.87M98.07 121.73H103.87" stroke="#463e32" stroke-width="0.9" fill="none"/>
<path d="M106.04 112.71V122.11M103.14 112.71H108.94M103.14 122.11H108.94" stroke="#463e32" stroke-width="0.9" fill="none"/>
<path d="M111.11 108.31V117.72M108.21 108.31H114.01M108.21 117.72H114.01" stroke="#463e32" stroke-width="0.9" fill="none"/>
<path d="M116.18 113.85V123.25M113.28 113.85H119.08M113.28 123.25H119.08" stroke="#463e32" stroke-width="0.9" fill="none"/>
<path d="M121.25 97.16V106.57M118.35 97.16H124.15M118.35 106.57H124.15" stroke="#463e32" stroke-width="0.9" fill="none"/>
<path d="M126.32 94.89V104.29M123.42 94.89H129.22M123.42 104.29H129.22" stroke="#463e32" stroke-width="0.9" fill="none"/>
<path d="M131.39 97.92V107.33M128.49 97.92H134.29M128.49 107.33H134.29" stroke="#463e32" stroke-width="0.9" fill="none"/>
<path d="M136.46 96.40V105.81M133.56 96.40H139.36M133.56 105.81H139.36" stroke="#463e32" stroke-width="0.9" fill="none"/>
<path d="M141.53 88.44V97.85M138.63 88.44H144.43M138.63 97.85H144.43" stroke="#463e32" stroke-width="0.9" fill="none"/>
<path d="M146.60 94.13V103.53M143.70 94.13H149.50M143.70 103.53H149.50" stroke="#463e32" stroke-width="0.9" fill="none"/>
<path d="M151.67 93.37V102.77M148.77 93.37H154.57M148.77 102.77H154.57" stroke="#463e32" stroke-width="0.9" fill="none"/>
<path d="M156.74 96.40V105.81M153.84 96.40H159.64M153.84 105.81H159.64" stroke="#463e32" stroke-width="0.9" fill="none"/>
<path d="M161.81 92.61V102.02M158.91 92.61H164.71M158.91 102.02H164.71" stroke="#463e32" stroke-width="0.9" fill="none"/>
<path d="M166.88 98.30V107.70M163.98 98.30H169.78M163.98 107.70H169.78" stroke="#463e32" stroke-width="0.9" fill="none"/>
<path d="M171.95 102.47V111.88M169.05 102.47H174.85M169.05 111.88H174.85" stroke="#463e32" stroke-width="0.9" fill="none"/>
<path d="M177.02 97.16V106.57M174.12 97.16H179.92M174.12 106.57H179.92" stroke="#463e32" stroke-width="0.9" fill="none"/>
<path d="M182.09 105.51V114.91M179.19 105.51H184.99M179.19 114.91H184.99" stroke="#463e32" stroke-width="0.9" fill="none"/>
<path d="M187.16 98.30V107.70M184.26 98.30H190.06M184.26 107.70H190.06" stroke="#463e32" stroke-width="0.9" fill="none"/>
<path d="M192.23 88.44V97.85M189.33 88.44H195.13M189.33 97.85H195.13" stroke="#463e32" stroke-width="0.9" fill="none"/>
<path d="M197.30 95.65V105.05M194.40 95.65H200.20M194.40 105.05H200.20" stroke="#463e32" stroke-width="0.9" fill="none"/>
<path d="M202.37 81.99V91.40M199.47 81.99H205.27M199.47 91.40H205.27" stroke="#463e32" stroke-width="0.9" fill="none"/>
<path d="M207.44 89.20V98.60M204.54 89.20H210.34M204.54 98.60H210.34" stroke="#463e32" stroke-width="0.9" fill="none"/>
<path d="M212.51 81.99V91.40M209.61 81.99H215.41M209.61 91.40H215.41" stroke="#463e32" stroke-width="0.9" fill="none"/>
<path d="M217.58 87.30V96.71M214.68 87.30H220.48M214.68 96.71H220.48" stroke="#463e32" stroke-width="0.9" fill="none"/>
<path d="M222.65 82.90V92.31M219.75 82.90H225.55M219.75 92.31H225.55" stroke="#463e32" stroke-width="0.9" fill="none"/>
<path d="M227.72 77.98V87.38M224.82 77.98H230.62M224.82 87.38H230.62" stroke="#463e32" stroke-width="0.9" fill="none"/>
<path d="M232.79 71.38V80.78M229.89 71.38H235.69M229.89 80.78H235.69" stroke="#463e32" stroke-width="0.9" fill="none"/>
<path d="M237.86 75.17V84.57M234.96 75.17H240.76M234.96 84.57H240.76" stroke="#463e32" stroke-width="0.9" fill="none"/>
<path d="M242.93 71.76V81.16M240.03 71.76H245.83M240.03 81.16H245.83" stroke="#463e32" stroke-width="0.9" fill="none"/>
<path d="M248.00 75.17V84.57M245.10 75.17H250.90M245.10 84.57H250.90" stroke="#463e32" stroke-width="0.9" fill="none"/>
<path d="M253.07 75.17V84.57M250.17 75.17H255.97M250.17 84.57H255.97" stroke="#463e32" stroke-width="0.9" fill="none"/>
<path d="M258.14 72.89V82.30M255.24 72.89H261.04M255.24 82.30H261.04" stroke="#463e32" stroke-width="0.9" fill="none"/>
<path d="M263.21 67.96V77.37M260.31 67.96H266.11M260.31 77.37H266.11" stroke="#463e32" stroke-width="0.9" fill="none"/>
<path d="M268.28 67.96V77.37M265.38 67.96H271.18M265.38 77.37H271.18" stroke="#463e32" stroke-width="0.9" fill="none"/>
<path d="M273.35 67.96V77.37M270.45 67.96H276.25M270.45 77.37H276.25" stroke="#463e32" stroke-width="0.9" fill="none"/>
<path d="M278.42 72.14V81.54M275.52 72.14H281.32M275.52 81.54H281.32" stroke="#463e32" stroke-width="0.9" fill="none"/>
<path d="M283.49 72.14V81.54M280.59 72.14H286.39M280.59 81.54H286.39" stroke="#463e32" stroke-width="0.9" fill="none"/>
<path d="M288.56 69.48V78.89M285.66 69.48H291.46M285.66 78.89H291.46" stroke="#463e32" stroke-width="0.9" fill="none"/>
<path d="M293.63 75.55V84.95M290.73 75.55H296.53M290.73 84.95H296.53" stroke="#463e32" stroke-width="0.9" fill="none"/>
<path d="M298.70 69.86V79.26M295.80 69.86H301.60M295.80 79.26H301.60" stroke="#463e32" stroke-width="0.9" fill="none"/>
<path d="M303.77 69.48V78.89M300.87 69.48H306.67M300.87 78.89H306.67" stroke="#463e32" stroke-width="0.9" fill="none"/>
<path d="M308.84 66.45V75.85M305.94 66.45H311.74M305.94 75.85H311.74" stroke="#463e32" stroke-width="0.9" fill="none"/>
<path d="M313.91 67.59V76.99M311.01 67.59H316.81M311.01 76.99H316.81" stroke="#463e32" stroke-width="0.9" fill="none"/>
<path d="M318.98 64.17V73.58M316.08 64.17H321.88M316.08 73.58H321.88" stroke="#463e32" stroke-width="0.9" fill="none"/>
<path d="M324.05 62.66V72.06M321.15 62.66H326.95M321.15 72.06H326.95" stroke="#463e32" stroke-width="0.9" fill="none"/>
<path d="M329.12 67.21V76.61M326.22 67.21H332.02M326.22 76.61H332.02" stroke="#463e32" stroke-width="0.9" fill="none"/>
<path d="M334.19 64.93V74.33M331.29 64.93H337.09M331.29 74.33H337.09" stroke="#463e32" stroke-width="0.9" fill="none"/>
<path d="M339.26 68.72V78.13M336.36 68.72H342.16M336.36 78.13H342.16" stroke="#463e32" stroke-width="0.9" fill="none"/>
<path d="M344.33 63.41V72.82M341.43 63.41H347.23M341.43 72.82H347.23" stroke="#463e32" stroke-width="0.9" fill="none"/>
<path d="M349.40 60.00V69.41M346.50 60.00H352.30M346.50 69.41H352.30" stroke="#463e32" stroke-width="0.9" fill="none"/>
<circle cx="55.34" cy="198.18" r="1.65" fill="#452e14"/>
<circle cx="60.41" cy="195.53" r="1.65" fill="#452e14"/>
<circle cx="65.48" cy="151.92" r="1.65" fill="#452e14"/>
<circle cx="70.55" cy="131.90" r="1.65" fill="#452e14"/>
<circle cx="75.62" cy="123.86" r="1.65" fill="#452e14"/>
<circle cx="80.69" cy="123.40" r="1.65" fill="#452e14"/>
<circle cx="85.76" cy="123.10" r="1.65" fill="#452e14"/>
<circle cx="90.83" cy="120.07" r="1.65" fill="#452e14"/>
<circle cx="95.90" cy="113.24" r="1.65" fill="#452e14"/>
<circle cx="100.97" cy="117.03" r="1.65" fill="#452e14"/>
<circle cx="106.04" cy="117.41" r="1.65" fill="#452e14"/>
<circle cx="111.11" cy="113.01" r="1.65" fill="#452e14"/>
<circle cx="116.18" cy="118.55" r="1.65" fill="#452e14"/>
<circle cx="121.25" cy="101.86" r="1.65" fill="#452e14"/>
<circle cx="126.32" cy="99.59" r="1.65" fill="#452e14"/>
<circle cx="131.39" cy="102.62" r="1.65" fill="#452e14"/>
<circle cx="136.46" cy="101.11" r="1.65" fill="#452e14"/>
<circle cx="141.53" cy="93.14" r="1.65" fill="#452e14"/>
<circle cx="146.60" cy="98.83" r="1.65" fill="#452e14"/>
<circle cx="151.67" cy="98.07" r="1.65" fill="#452e14"/>
<circle cx="156.74" cy="101.11" r="1.65" fill="#452e14"/>
<circle cx="161.81" cy="97.31" r="1.65" fill="#452e14"/>
<circle cx="166.88" cy="103.00" r="1.65" fill="#452e14"/>
<circle cx="171.95" cy="107.17" r="1.65" fill="#452e14"/>
<circle cx="177.02" cy="101.86" r="1.65" fill="#452e14"/>
<circle cx="182.09" cy="110.21" r="1.65" fill="#452e14"/>
<circle cx="187.16" cy="103.00" r="1.65" fill="#452e14"/>
<circle cx="192.23" cy="93.14" r="1.65" fill="#452e14"/>
<circle cx="197.30" cy="100.35" r="1.65" fill="#452e14"/>
<circle cx="202.37" cy="86.70" r="1.65" fill="#452e14"/>
<circle cx="207.44" cy="93.90" r="1.65" fill="#452e14"/>
<circle cx="212.51" cy="86.70" r="1.65" fill="#452e14"/>
<circle cx="217.58" cy="92.01" r="1.65" fill="#452e14"/>
<circle cx="222.65" cy="87.61" r="1.65" fill="#452e14"/>
<circle cx="227.72" cy="82.68" r="1.65" fill="#452e14"/>
<circle cx="232.79" cy="76.08" r="1.65" fill="#452e14"/>
<circle cx="237.86" cy="79.87" r="1.65" fill="#452e14"/>
<circle cx="242.93" cy="76.46" r="1.65" fill="#452e14"/>
<circle cx="248.00" cy="79.87" r="1.65" fill="#452e14"/>
<circle cx="253.07" cy="79.87" r="1.65" fill="#452e14"/>
<circle cx="258.14" cy="77.60" r="1.65" fill="#452e14"/>
<circle cx="263.21" cy="72.67" r="1.65" fill="#452e14"/>
<circle cx="268.28" cy="72.67" r="1.65" fill="#452e14"/>
<circle cx="273.35" cy="72.67" r="1.65" fill="#452e14"/>
<circle cx="278.42" cy="76.84" r="1.65" fill="#452e14"/>
<circle cx="283.49" cy="76.84" r="1.65" fill="#452e14"/>
<circle cx="288.56" cy="74.18" r="1.65" fill="#452e14"/>
<circle cx="293.63" cy="80.25" r="1.65" fill="#452e14"/>
<circle cx="298.70" cy="74.56" r="1.65" fill="#452e14"/>
<circle cx="303.77" cy="74.18" r="1.65" fill="#452e14"/>
<circle cx="308.84" cy="71.15" r="1.65" fill="#452e14"/>
<circle cx="313.91" cy="72.29" r="1.65" fill="#452e14"/>
<circle cx="318.98" cy="68.87" r="1.65" fill="#452e14"/>
<circle cx="324.05" cy="67.36" r="1.65" fill="#452e14"/>
<circle cx="329.12" cy="71.91" r="1.65" fill="#452e14"/>
<circle cx="334.19" cy="69.63" r="1.65" fill="#452e14"/>
<circle cx="339.26" cy="73.42" r="1.65" fill="#452e14"/>
<circle cx="344.33" cy="68.12" r="1.65" fill="#452e14"/>
<circle cx="349.40" cy="64.70" r="1.65" fill="#452e14"/>
<rect x="40.8" y="25.5" width="313.8" height="195.4" fill="none" stroke="#555" stroke-width="1.3"/>
<line x1="37" x2="40.8" y1="217.90" y2="217.90" stroke="#555" stroke-width="1"/>
<text x="34.2" y="220.45" font-size="7.3" text-anchor="end" fill="#333" stroke="#333" stroke-width="0.25">70</text>
<line x1="37" x2="40.8" y1="179.98" y2="179.98" stroke="#555" stroke-width="1"/>
<text x="34.2" y="182.53" font-size="7.3" text-anchor="end" fill="#333" stroke="#333" stroke-width="0.25">75</text>
<line x1="37" x2="40.8" y1="142.06" y2="142.06" stroke="#555" stroke-width="1"/>
<text x="34.2" y="144.61" font-size="7.3" text-anchor="end" fill="#333" stroke="#333" stroke-width="0.25">80</text>
<line x1="37" x2="40.8" y1="104.14" y2="104.14" stroke="#555" stroke-width="1"/>
<text x="34.2" y="106.69" font-size="7.3" text-anchor="end" fill="#333" stroke="#333" stroke-width="0.25">85</text>
<line x1="37" x2="40.8" y1="66.22" y2="66.22" stroke="#555" stroke-width="1"/>
<text x="34.2" y="68.77" font-size="7.3" text-anchor="end" fill="#333" stroke="#333" stroke-width="0.25">90</text>
<line x1="37" x2="40.8" y1="28.30" y2="28.30" stroke="#555" stroke-width="1"/>
<text x="34.2" y="30.85" font-size="7.3" text-anchor="end" fill="#333" stroke="#333" stroke-width="0.25">95</text>
<line x1="45.20" x2="45.20" y1="220.9" y2="224.8" stroke="#555" stroke-width="1"/>
<text x="45.20" y="233.0" font-size="7.3" text-anchor="middle" fill="#333" stroke="#333" stroke-width="0.25">0</text>
<line x1="95.90" x2="95.90" y1="220.9" y2="224.8" stroke="#555" stroke-width="1"/>
<text x="95.90" y="233.0" font-size="7.3" text-anchor="middle" fill="#333" stroke="#333" stroke-width="0.25">10</text>
<line x1="146.60" x2="146.60" y1="220.9" y2="224.8" stroke="#555" stroke-width="1"/>
<text x="146.60" y="233.0" font-size="7.3" text-anchor="middle" fill="#333" stroke="#333" stroke-width="0.25">20</text>
<line x1="197.30" x2="197.30" y1="220.9" y2="224.8" stroke="#555" stroke-width="1"/>
<text x="197.30" y="233.0" font-size="7.3" text-anchor="middle" fill="#333" stroke="#333" stroke-width="0.25">30</text>
<line x1="248.00" x2="248.00" y1="220.9" y2="224.8" stroke="#555" stroke-width="1"/>
<text x="248.00" y="233.0" font-size="7.3" text-anchor="middle" fill="#333" stroke="#333" stroke-width="0.25">40</text>
<line x1="298.70" x2="298.70" y1="220.9" y2="224.8" stroke="#555" stroke-width="1"/>
<text x="298.70" y="233.0" font-size="7.3" text-anchor="middle" fill="#333" stroke="#333" stroke-width="0.25">50</text>
<line x1="349.40" x2="349.40" y1="220.9" y2="224.8" stroke="#555" stroke-width="1"/>
<text x="349.40" y="233.0" font-size="7.3" text-anchor="middle" fill="#333" stroke="#333" stroke-width="0.25">60</text>
<text transform="translate(197.5 247) scale(0.93 1)" font-size="8.6" text-anchor="middle" fill="#222" stroke="#222" stroke-width="0.22">Number of Features</text>
<text transform="translate(16.4 123) rotate(-90) scale(0.955 1)" x="0" y="0" font-size="8.7" text-anchor="middle" fill="#222" stroke="#222" stroke-width="0.22">Classification Accuracy</text>
<rect x="120.7" y="255.5" width="153.4" height="9.5" fill="none" stroke="#666" stroke-width="1"/>
<text x="123.6" y="262.8" font-size="7.5" fill="#222" stroke="#222" stroke-width="0.2">Algorithm</text>
<circle cx="170.6" cy="260.7" r="1.9" fill="#2418a0"/>
<text x="177.9" y="263.1" font-size="6.5" fill="#222" stroke="#222" stroke-width="0.22">KNN</text>
<circle cx="200.3" cy="260.7" r="1.9" fill="#a01a42"/>
<text x="207.1" y="263.1" font-size="6.5" fill="#222" stroke="#222" stroke-width="0.22">BAG</text>
<circle cx="230.3" cy="260.7" r="1.9" fill="#127064"/>
<text x="235.7" y="263.1" font-size="6.5" fill="#222" stroke="#222" stroke-width="0.22">RF</text>
<circle cx="256.0" cy="260.7" r="1.9" fill="#452e14"/>
<text x="260.3" y="263.1" font-size="6.5" fill="#222" stroke="#222" stroke-width="0.22">ET</text>
<rect x="2.5" y="279.5" width="358" height="267.7" fill="none" stroke="#4e4e4e" stroke-width="1.25"/>
<text transform="translate(197.4 294.1) scale(0.955 1)" font-size="9.6" font-weight="bold" text-anchor="middle" fill="#111">Non-Dominant Hand</text>
<line x1="41.8" x2="353.6" y1="493.90" y2="493.90" stroke="#e6e6e6" stroke-width="1"/>
<line x1="41.8" x2="353.6" y1="455.98" y2="455.98" stroke="#e6e6e6" stroke-width="1"/>
<line x1="41.8" x2="353.6" y1="418.06" y2="418.06" stroke="#e6e6e6" stroke-width="1"/>
<line x1="41.8" x2="353.6" y1="380.14" y2="380.14" stroke="#e6e6e6" stroke-width="1"/>
<line x1="41.8" x2="353.6" y1="342.22" y2="342.22" stroke="#e6e6e6" stroke-width="1"/>
<line x1="41.8" x2="353.6" y1="304.30" y2="304.30" stroke="#e6e6e6" stroke-width="1"/>
<path d="M55.34 486.39V495.80M52.44 486.39H58.24M52.44 495.80H58.24" stroke="#393560" stroke-width="0.9" fill="none"/>
<path d="M60.41 474.03V483.43M57.51 474.03H63.31M57.51 483.43H63.31" stroke="#393560" stroke-width="0.9" fill="none"/>
<path d="M65.48 452.79V462.20M62.58 452.79H68.38M62.58 462.20H68.38" stroke="#393560" stroke-width="0.9" fill="none"/>
<path d="M70.55 458.10V467.51M67.65 458.10H73.45M67.65 467.51H73.45" stroke="#393560" stroke-width="0.9" fill="none"/>
<path d="M75.62 439.90V449.31M72.72 439.90H78.52M72.72 449.31H78.52" stroke="#393560" stroke-width="0.9" fill="none"/>
<path d="M80.69 396.67V406.08M77.79 396.67H83.59M77.79 406.08H83.59" stroke="#393560" stroke-width="0.9" fill="none"/>
<path d="M85.76 386.06V395.46M82.86 386.06H88.66M82.86 395.46H88.66" stroke="#393560" stroke-width="0.9" fill="none"/>
<path d="M90.83 398.95V408.35M87.93 398.95H93.73M87.93 408.35H93.73" stroke="#393560" stroke-width="0.9" fill="none"/>
<path d="M95.90 386.81V396.22M93.00 386.81H98.80M93.00 396.22H98.80" stroke="#393560" stroke-width="0.9" fill="none"/>
<path d="M100.97 371.65V381.05M98.07 371.65H103.87M98.07 381.05H103.87" stroke="#393560" stroke-width="0.9" fill="none"/>
<path d="M106.04 370.89V380.29M103.14 370.89H108.94M103.14 380.29H108.94" stroke="#393560" stroke-width="0.9" fill="none"/>
<path d="M111.11 360.27V369.67M108.21 360.27H114.01M108.21 369.67H114.01" stroke="#393560" stroke-width="0.9" fill="none"/>
<path d="M116.18 373.16V382.57M113.28 373.16H119.08M113.28 382.57H119.08" stroke="#393560" stroke-width="0.9" fill="none"/>
<path d="M121.25 364.06V373.47M118.35 364.06H124.15M118.35 373.47H124.15" stroke="#393560" stroke-width="0.9" fill="none"/>
<path d="M126.32 372.40V381.81M123.42 372.40H129.22M123.42 381.81H129.22" stroke="#393560" stroke-width="0.9" fill="none"/>
<path d="M131.39 372.03V381.43M128.49 372.03H134.29M128.49 381.43H134.29" stroke="#393560" stroke-width="0.9" fill="none"/>
<path d="M136.46 372.40V381.81M133.56 372.40H139.36M133.56 381.81H139.36" stroke="#393560" stroke-width="0.9" fill="none"/>
<path d="M141.53 364.06V373.47M138.63 364.06H144.43M138.63 373.47H144.43" stroke="#393560" stroke-width="0.9" fill="none"/>
<path d="M146.60 364.06V373.47M143.70 364.06H149.50M143.70 373.47H149.50" stroke="#393560" stroke-width="0.9" fill="none"/>
<path d="M151.67 368.99V378.40M148.77 368.99H154.57M148.77 378.40H154.57" stroke="#393560" stroke-width="0.9" fill="none"/>
<path d="M156.74 357.24V366.64M153.84 357.24H159.64M153.84 366.64H159.64" stroke="#393560" stroke-width="0.9" fill="none"/>
<path d="M161.81 362.55V371.95M158.91 362.55H164.71M158.91 371.95H164.71" stroke="#393560" stroke-width="0.9" fill="none"/>
<path d="M166.88 357.24V366.64M163.98 357.24H169.78M163.98 366.64H169.78" stroke="#393560" stroke-width="0.9" fill="none"/>
<path d="M171.95 365.58V374.98M169.05 365.58H174.85M169.05 374.98H174.85" stroke="#393560" stroke-width="0.9" fill="none"/>
<path d="M177.02 354.20V363.61M174.12 354.20H179.92M174.12 363.61H179.92" stroke="#393560" stroke-width="0.9" fill="none"/>
<path d="M182.09 354.96V364.37M179.19 354.96H184.99M179.19 364.37H184.99" stroke="#393560" stroke-width="0.9" fill="none"/>
<path d="M187.16 354.20V363.61M184.26 354.20H190.06M184.26 363.61H190.06" stroke="#393560" stroke-width="0.9" fill="none"/>
<path d="M192.23 361.79V371.19M189.33 361.79H195.13M189.33 371.19H195.13" stroke="#393560" stroke-width="0.9" fill="none"/>
<path d="M197.30 358.75V368.16M194.40 358.75H200.20M194.40 368.16H200.20" stroke="#393560" stroke-width="0.9" fill="none"/>
<path d="M202.37 379.61V389.01M199.47 379.61H205.27M199.47 389.01H205.27" stroke="#393560" stroke-width="0.9" fill="none"/>
<path d="M207.44 364.82V374.22M204.54 364.82H210.34M204.54 374.22H210.34" stroke="#393560" stroke-width="0.9" fill="none"/>
<path d="M212.51 357.62V367.02M209.61 357.62H215.41M209.61 367.02H215.41" stroke="#393560" stroke-width="0.9" fill="none"/>
<path d="M217.58 369.37V378.77M214.68 369.37H220.48M214.68 378.77H220.48" stroke="#393560" stroke-width="0.9" fill="none"/>
<path d="M222.65 361.41V370.81M219.75 361.41H225.55M219.75 370.81H225.55" stroke="#393560" stroke-width="0.9" fill="none"/>
<path d="M227.72 350.41V359.81M224.82 350.41H230.62M224.82 359.81H230.62" stroke="#393560" stroke-width="0.9" fill="none"/>
<path d="M232.79 362.92V372.33M229.89 362.92H235.69M229.89 372.33H235.69" stroke="#393560" stroke-width="0.9" fill="none"/>
<path d="M237.86 347.76V357.16M234.96 347.76H240.76M234.96 357.16H240.76" stroke="#393560" stroke-width="0.9" fill="none"/>
<path d="M242.93 370.89V380.29M240.03 370.89H245.83M240.03 380.29H245.83" stroke="#393560" stroke-width="0.9" fill="none"/>
<path d="M248.00 359.89V369.29M245.10 359.89H250.90M245.10 369.29H250.90" stroke="#393560" stroke-width="0.9" fill="none"/>
<path d="M253.07 351.17V360.57M250.17 351.17H255.97M250.17 360.57H255.97" stroke="#393560" stroke-width="0.9" fill="none"/>
<path d="M258.14 361.03V370.43M255.24 361.03H261.04M255.24 370.43H261.04" stroke="#393560" stroke-width="0.9" fill="none"/>
<path d="M263.21 357.24V366.64M260.31 357.24H266.11M260.31 366.64H266.11" stroke="#393560" stroke-width="0.9" fill="none"/>
<path d="M268.28 357.99V367.40M265.38 357.99H271.18M265.38 367.40H271.18" stroke="#393560" stroke-width="0.9" fill="none"/>
<path d="M273.35 364.44V373.85M270.45 364.44H276.25M270.45 373.85H276.25" stroke="#393560" stroke-width="0.9" fill="none"/>
<path d="M278.42 357.24V366.64M275.52 357.24H281.32M275.52 366.64H281.32" stroke="#393560" stroke-width="0.9" fill="none"/>
<path d="M283.49 360.27V369.67M280.59 360.27H286.39M280.59 369.67H286.39" stroke="#393560" stroke-width="0.9" fill="none"/>
<path d="M288.56 360.27V369.67M285.66 360.27H291.46M285.66 369.67H291.46" stroke="#393560" stroke-width="0.9" fill="none"/>
<path d="M293.63 361.79V371.19M290.73 361.79H296.53M290.73 371.19H296.53" stroke="#393560" stroke-width="0.9" fill="none"/>
<path d="M298.70 357.99V367.40M295.80 357.99H301.60M295.80 367.40H301.60" stroke="#393560" stroke-width="0.9" fill="none"/>
<path d="M303.77 365.96V375.36M300.87 365.96H306.67M300.87 375.36H306.67" stroke="#393560" stroke-width="0.9" fill="none"/>
<path d="M308.84 362.55V371.95M305.94 362.55H311.74M305.94 371.95H311.74" stroke="#393560" stroke-width="0.9" fill="none"/>
<path d="M313.91 361.79V371.19M311.01 361.79H316.81M311.01 371.19H316.81" stroke="#393560" stroke-width="0.9" fill="none"/>
<path d="M318.98 365.20V374.60M316.08 365.20H321.88M316.08 374.60H321.88" stroke="#393560" stroke-width="0.9" fill="none"/>
<path d="M324.05 361.79V371.19M321.15 361.79H326.95M321.15 371.19H326.95" stroke="#393560" stroke-width="0.9" fill="none"/>
<path d="M329.12 353.82V363.23M326.22 353.82H332.02M326.22 363.23H332.02" stroke="#393560" stroke-width="0.9" fill="none"/>
<path d="M334.19 360.27V369.67M331.29 360.27H337.09M331.29 369.67H337.09" stroke="#393560" stroke-width="0.9" fill="none"/>
<path d="M339.26 367.47V376.88M336.36 367.47H342.16M336.36 376.88H342.16" stroke="#393560" stroke-width="0.9" fill="none"/>
<path d="M344.33 357.99V367.40M341.43 357.99H347.23M341.43 367.40H347.23" stroke="#393560" stroke-width="0.9" fill="none"/>
<path d="M349.40 354.96V364.37M346.50 354.96H352.30M346.50 364.37H352.30" stroke="#393560" stroke-width="0.9" fill="none"/>
<circle cx="55.34" cy="491.09" r="1.65" fill="#2418a0"/>
<circle cx="60.41" cy="478.73" r="1.65" fill="#2418a0"/>
<circle cx="65.48" cy="457.50" r="1.65" fill="#2418a0"/>
<circle cx="70.55" cy="462.81" r="1.65" fill="#2418a0"/>
<circle cx="75.62" cy="444.60" r="1.65" fill="#2418a0"/>
<circle cx="80.69" cy="401.38" r="1.65" fill="#2418a0"/>
<circle cx="85.76" cy="390.76" r="1.65" fill="#2418a0"/>
<circle cx="90.83" cy="403.65" r="1.65" fill="#2418a0"/>
<circle cx="95.90" cy="391.52" r="1.65" fill="#2418a0"/>
<circle cx="100.97" cy="376.35" r="1.65" fill="#2418a0"/>
<circle cx="106.04" cy="375.59" r="1.65" fill="#2418a0"/>
<circle cx="111.11" cy="364.97" r="1.65" fill="#2418a0"/>
<circle cx="116.18" cy="377.86" r="1.65" fill="#2418a0"/>
<circle cx="121.25" cy="368.76" r="1.65" fill="#2418a0"/>
<circle cx="126.32" cy="377.11" r="1.65" fill="#2418a0"/>
<circle cx="131.39" cy="376.73" r="1.65" fill="#2418a0"/>
<circle cx="136.46" cy="377.11" r="1.65" fill="#2418a0"/>
<circle cx="141.53" cy="368.76" r="1.65" fill="#2418a0"/>
<circle cx="146.60" cy="368.76" r="1.65" fill="#2418a0"/>
<circle cx="151.67" cy="373.69" r="1.65" fill="#2418a0"/>
<circle cx="156.74" cy="361.94" r="1.65" fill="#2418a0"/>
<circle cx="161.81" cy="367.25" r="1.65" fill="#2418a0"/>
<circle cx="166.88" cy="361.94" r="1.65" fill="#2418a0"/>
<circle cx="171.95" cy="370.28" r="1.65" fill="#2418a0"/>
<circle cx="177.02" cy="358.90" r="1.65" fill="#2418a0"/>
<circle cx="182.09" cy="359.66" r="1.65" fill="#2418a0"/>
<circle cx="187.16" cy="358.90" r="1.65" fill="#2418a0"/>
<circle cx="192.23" cy="366.49" r="1.65" fill="#2418a0"/>
<circle cx="197.30" cy="363.46" r="1.65" fill="#2418a0"/>
<circle cx="202.37" cy="384.31" r="1.65" fill="#2418a0"/>
<circle cx="207.44" cy="369.52" r="1.65" fill="#2418a0"/>
<circle cx="212.51" cy="362.32" r="1.65" fill="#2418a0"/>
<circle cx="217.58" cy="374.07" r="1.65" fill="#2418a0"/>
<circle cx="222.65" cy="366.11" r="1.65" fill="#2418a0"/>
<circle cx="227.72" cy="355.11" r="1.65" fill="#2418a0"/>
<circle cx="232.79" cy="367.63" r="1.65" fill="#2418a0"/>
<circle cx="237.86" cy="352.46" r="1.65" fill="#2418a0"/>
<circle cx="242.93" cy="375.59" r="1.65" fill="#2418a0"/>
<circle cx="248.00" cy="364.59" r="1.65" fill="#2418a0"/>
<circle cx="253.07" cy="355.87" r="1.65" fill="#2418a0"/>
<circle cx="258.14" cy="365.73" r="1.65" fill="#2418a0"/>
<circle cx="263.21" cy="361.94" r="1.65" fill="#2418a0"/>
<circle cx="268.28" cy="362.70" r="1.65" fill="#2418a0"/>
<circle cx="273.35" cy="369.14" r="1.65" fill="#2418a0"/>
<circle cx="278.42" cy="361.94" r="1.65" fill="#2418a0"/>
<circle cx="283.49" cy="364.97" r="1.65" fill="#2418a0"/>
<circle cx="288.56" cy="364.97" r="1.65" fill="#2418a0"/>
<circle cx="293.63" cy="366.49" r="1.65" fill="#2418a0"/>
<circle cx="298.70" cy="362.70" r="1.65" fill="#2418a0"/>
<circle cx="303.77" cy="370.66" r="1.65" fill="#2418a0"/>
<circle cx="308.84" cy="367.25" r="1.65" fill="#2418a0"/>
<circle cx="313.91" cy="366.49" r="1.65" fill="#2418a0"/>
<circle cx="318.98" cy="369.90" r="1.65" fill="#2418a0"/>
<circle cx="324.05" cy="366.49" r="1.65" fill="#2418a0"/>
<circle cx="329.12" cy="358.53" r="1.65" fill="#2418a0"/>
<circle cx="334.19" cy="364.97" r="1.65" fill="#2418a0"/>
<circle cx="339.26" cy="372.18" r="1.65" fill="#2418a0"/>
<circle cx="344.33" cy="362.70" r="1.65" fill="#2418a0"/>
<circle cx="349.40" cy="359.66" r="1.65" fill="#2418a0"/>
<path d="M60.41 468.72V478.13M57.51 468.72H63.31M57.51 478.13H63.31" stroke="#7e3c4c" stroke-width="0.9" fill="none"/>
<path d="M65.48 451.28V460.68M62.58 451.28H68.38M62.58 460.68H68.38" stroke="#7e3c4c" stroke-width="0.9" fill="none"/>
<path d="M70.55 451.28V460.68M67.65 451.28H73.45M67.65 460.68H73.45" stroke="#7e3c4c" stroke-width="0.9" fill="none"/>
<path d="M75.62 424.73V434.14M72.72 424.73H78.52M72.72 434.14H78.52" stroke="#7e3c4c" stroke-width="0.9" fill="none"/>
<path d="M80.69 387.57V396.98M77.79 387.57H83.59M77.79 396.98H83.59" stroke="#7e3c4c" stroke-width="0.9" fill="none"/>
<path d="M85.76 376.20V385.60M82.86 376.20H88.66M82.86 385.60H88.66" stroke="#7e3c4c" stroke-width="0.9" fill="none"/>
<path d="M90.83 389.09V398.49M87.93 389.09H93.73M87.93 398.49H93.73" stroke="#7e3c4c" stroke-width="0.9" fill="none"/>
<path d="M95.90 375.06V384.46M93.00 375.06H98.80M93.00 384.46H98.80" stroke="#7e3c4c" stroke-width="0.9" fill="none"/>
<path d="M100.97 365.58V374.98M98.07 365.58H103.87M98.07 374.98H103.87" stroke="#7e3c4c" stroke-width="0.9" fill="none"/>
<path d="M106.04 365.96V375.36M103.14 365.96H108.94M103.14 375.36H108.94" stroke="#7e3c4c" stroke-width="0.9" fill="none"/>
<path d="M111.11 354.96V364.37M108.21 354.96H114.01M108.21 364.37H114.01" stroke="#7e3c4c" stroke-width="0.9" fill="none"/>
<path d="M116.18 356.86V366.26M113.28 356.86H119.08M113.28 366.26H119.08" stroke="#7e3c4c" stroke-width="0.9" fill="none"/>
<path d="M121.25 351.55V360.95M118.35 351.55H124.15M118.35 360.95H124.15" stroke="#7e3c4c" stroke-width="0.9" fill="none"/>
<path d="M126.32 348.51V357.92M123.42 348.51H129.22M123.42 357.92H129.22" stroke="#7e3c4c" stroke-width="0.9" fill="none"/>
<path d="M131.39 354.96V364.37M128.49 354.96H134.29M128.49 364.37H134.29" stroke="#7e3c4c" stroke-width="0.9" fill="none"/>
<path d="M136.46 357.99V367.40M133.56 357.99H139.36M133.56 367.40H139.36" stroke="#7e3c4c" stroke-width="0.9" fill="none"/>
<path d="M141.53 350.41V359.81M138.63 350.41H144.43M138.63 359.81H144.43" stroke="#7e3c4c" stroke-width="0.9" fill="none"/>
<path d="M146.60 347.00V356.40M143.70 347.00H149.50M143.70 356.40H149.50" stroke="#7e3c4c" stroke-width="0.9" fill="none"/>
<path d="M151.67 350.41V359.81M148.77 350.41H154.57M148.77 359.81H154.57" stroke="#7e3c4c" stroke-width="0.9" fill="none"/>
<path d="M156.74 347.38V356.78M153.84 347.38H159.64M153.84 356.78H159.64" stroke="#7e3c4c" stroke-width="0.9" fill="none"/>
<path d="M161.81 350.41V359.81M158.91 350.41H164.71M158.91 359.81H164.71" stroke="#7e3c4c" stroke-width="0.9" fill="none"/>
<path d="M166.88 351.93V361.33M163.98 351.93H169.78M163.98 361.33H169.78" stroke="#7e3c4c" stroke-width="0.9" fill="none"/>
<path d="M171.95 353.07V362.47M169.05 353.07H174.85M169.05 362.47H174.85" stroke="#7e3c4c" stroke-width="0.9" fill="none"/>
<path d="M177.02 343.96V353.37M174.12 343.96H179.92M174.12 353.37H179.92" stroke="#7e3c4c" stroke-width="0.9" fill="none"/>
<path d="M182.09 338.28V347.68M179.19 338.28H184.99M179.19 347.68H184.99" stroke="#7e3c4c" stroke-width="0.9" fill="none"/>
<path d="M187.16 342.07V351.47M184.26 342.07H190.06M184.26 351.47H190.06" stroke="#7e3c4c" stroke-width="0.9" fill="none"/>
<path d="M192.23 351.93V361.33M189.33 351.93H195.13M189.33 361.33H195.13" stroke="#7e3c4c" stroke-width="0.9" fill="none"/>
<path d="M197.30 331.83V341.23M194.40 331.83H200.20M194.40 341.23H200.20" stroke="#7e3c4c" stroke-width="0.9" fill="none"/>
<path d="M202.37 346.62V356.02M199.47 346.62H205.27M199.47 356.02H205.27" stroke="#7e3c4c" stroke-width="0.9" fill="none"/>
<path d="M207.44 332.97V342.37M204.54 332.97H210.34M204.54 342.37H210.34" stroke="#7e3c4c" stroke-width="0.9" fill="none"/>
<path d="M212.51 339.03V348.44M209.61 339.03H215.41M209.61 348.44H215.41" stroke="#7e3c4c" stroke-width="0.9" fill="none"/>
<path d="M217.58 340.55V349.96M214.68 340.55H220.48M214.68 349.96H220.48" stroke="#7e3c4c" stroke-width="0.9" fill="none"/>
<path d="M222.65 333.73V343.13M219.75 333.73H225.55M219.75 343.13H225.55" stroke="#7e3c4c" stroke-width="0.9" fill="none"/>
<path d="M227.72 333.73V343.13M224.82 333.73H230.62M224.82 343.13H230.62" stroke="#7e3c4c" stroke-width="0.9" fill="none"/>
<path d="M232.79 333.73V343.13M229.89 333.73H235.69M229.89 343.13H235.69" stroke="#7e3c4c" stroke-width="0.9" fill="none"/>
<path d="M237.86 334.48V343.89M234.96 334.48H240.76M234.96 343.89H240.76" stroke="#7e3c4c" stroke-width="0.9" fill="none"/>
<path d="M242.93 336.00V345.41M240.03 336.00H245.83M240.03 345.41H245.83" stroke="#7e3c4c" stroke-width="0.9" fill="none"/>
<path d="M248.00 336.76V346.16M245.10 336.76H250.90M245.10 346.16H250.90" stroke="#7e3c4c" stroke-width="0.9" fill="none"/>
<path d="M253.07 329.55V338.96M250.17 329.55H255.97M250.17 338.96H255.97" stroke="#7e3c4c" stroke-width="0.9" fill="none"/>
<path d="M258.14 339.79V349.20M255.24 339.79H261.04M255.24 349.20H261.04" stroke="#7e3c4c" stroke-width="0.9" fill="none"/>
<path d="M263.21 336.00V345.41M260.31 336.00H266.11M260.31 345.41H266.11" stroke="#7e3c4c" stroke-width="0.9" fill="none"/>
<path d="M268.28 334.11V343.51M265.38 334.11H271.18M265.38 343.51H271.18" stroke="#7e3c4c" stroke-width="0.9" fill="none"/>
<path d="M273.35 328.04V337.44M270.45 328.04H276.25M270.45 337.44H276.25" stroke="#7e3c4c" stroke-width="0.9" fill="none"/>
<path d="M278.42 331.07V340.48M275.52 331.07H281.32M275.52 340.48H281.32" stroke="#7e3c4c" stroke-width="0.9" fill="none"/>
<path d="M283.49 334.48V343.89M280.59 334.48H286.39M280.59 343.89H286.39" stroke="#7e3c4c" stroke-width="0.9" fill="none"/>
<path d="M288.56 333.73V343.13M285.66 333.73H291.46M285.66 343.13H291.46" stroke="#7e3c4c" stroke-width="0.9" fill="none"/>
<path d="M293.63 325.38V334.79M290.73 325.38H296.53M290.73 334.79H296.53" stroke="#7e3c4c" stroke-width="0.9" fill="none"/>
<path d="M298.70 324.63V334.03M295.80 324.63H301.60M295.80 334.03H301.60" stroke="#7e3c4c" stroke-width="0.9" fill="none"/>
<path d="M303.77 329.93V339.34M300.87 329.93H306.67M300.87 339.34H306.67" stroke="#7e3c4c" stroke-width="0.9" fill="none"/>
<path d="M308.84 330.31V339.72M305.94 330.31H311.74M305.94 339.72H311.74" stroke="#7e3c4c" stroke-width="0.9" fill="none"/>
<path d="M313.91 330.31V339.72M311.01 330.31H316.81M311.01 339.72H316.81" stroke="#7e3c4c" stroke-width="0.9" fill="none"/>
<path d="M318.98 334.86V344.27M316.08 334.86H321.88M316.08 344.27H321.88" stroke="#7e3c4c" stroke-width="0.9" fill="none"/>
<path d="M324.05 337.14V346.54M321.15 337.14H326.95M321.15 346.54H326.95" stroke="#7e3c4c" stroke-width="0.9" fill="none"/>
<path d="M329.12 323.87V333.27M326.22 323.87H332.02M326.22 333.27H332.02" stroke="#7e3c4c" stroke-width="0.9" fill="none"/>
<path d="M334.19 328.42V337.82M331.29 328.42H337.09M331.29 337.82H337.09" stroke="#7e3c4c" stroke-width="0.9" fill="none"/>
<path d="M339.26 333.35V342.75M336.36 333.35H342.16M336.36 342.75H342.16" stroke="#7e3c4c" stroke-width="0.9" fill="none"/>
<path d="M344.33 323.87V333.27M341.43 323.87H347.23M341.43 333.27H347.23" stroke="#7e3c4c" stroke-width="0.9" fill="none"/>
<path d="M349.40 323.11V332.51M346.50 323.11H352.30M346.50 332.51H352.30" stroke="#7e3c4c" stroke-width="0.9" fill="none"/>
<circle cx="60.41" cy="473.42" r="1.65" fill="#a01a42"/>
<circle cx="65.48" cy="455.98" r="1.65" fill="#a01a42"/>
<circle cx="70.55" cy="455.98" r="1.65" fill="#a01a42"/>
<circle cx="75.62" cy="429.44" r="1.65" fill="#a01a42"/>
<circle cx="80.69" cy="392.27" r="1.65" fill="#a01a42"/>
<circle cx="85.76" cy="380.90" r="1.65" fill="#a01a42"/>
<circle cx="90.83" cy="393.79" r="1.65" fill="#a01a42"/>
<circle cx="95.90" cy="379.76" r="1.65" fill="#a01a42"/>
<circle cx="100.97" cy="370.28" r="1.65" fill="#a01a42"/>
<circle cx="106.04" cy="370.66" r="1.65" fill="#a01a42"/>
<circle cx="111.11" cy="359.66" r="1.65" fill="#a01a42"/>
<circle cx="116.18" cy="361.56" r="1.65" fill="#a01a42"/>
<circle cx="121.25" cy="356.25" r="1.65" fill="#a01a42"/>
<circle cx="126.32" cy="353.22" r="1.65" fill="#a01a42"/>
<circle cx="131.39" cy="359.66" r="1.65" fill="#a01a42"/>
<circle cx="136.46" cy="362.70" r="1.65" fill="#a01a42"/>
<circle cx="141.53" cy="355.11" r="1.65" fill="#a01a42"/>
<circle cx="146.60" cy="351.70" r="1.65" fill="#a01a42"/>
<circle cx="151.67" cy="355.11" r="1.65" fill="#a01a42"/>
<circle cx="156.74" cy="352.08" r="1.65" fill="#a01a42"/>
<circle cx="161.81" cy="355.11" r="1.65" fill="#a01a42"/>
<circle cx="166.88" cy="356.63" r="1.65" fill="#a01a42"/>
<circle cx="171.95" cy="357.77" r="1.65" fill="#a01a42"/>
<circle cx="177.02" cy="348.67" r="1.65" fill="#a01a42"/>
<circle cx="182.09" cy="342.98" r="1.65" fill="#a01a42"/>
<circle cx="187.16" cy="346.77" r="1.65" fill="#a01a42"/>
<circle cx="192.23" cy="356.63" r="1.65" fill="#a01a42"/>
<circle cx="197.30" cy="336.53" r="1.65" fill="#a01a42"/>
<circle cx="202.37" cy="351.32" r="1.65" fill="#a01a42"/>
<circle cx="207.44" cy="337.67" r="1.65" fill="#a01a42"/>
<circle cx="212.51" cy="343.74" r="1.65" fill="#a01a42"/>
<circle cx="217.58" cy="345.25" r="1.65" fill="#a01a42"/>
<circle cx="222.65" cy="338.43" r="1.65" fill="#a01a42"/>
<circle cx="227.72" cy="338.43" r="1.65" fill="#a01a42"/>
<circle cx="232.79" cy="338.43" r="1.65" fill="#a01a42"/>
<circle cx="237.86" cy="339.19" r="1.65" fill="#a01a42"/>
<circle cx="242.93" cy="340.70" r="1.65" fill="#a01a42"/>
<circle cx="248.00" cy="341.46" r="1.65" fill="#a01a42"/>
<circle cx="253.07" cy="334.26" r="1.65" fill="#a01a42"/>
<circle cx="258.14" cy="344.50" r="1.65" fill="#a01a42"/>
<circle cx="263.21" cy="340.70" r="1.65" fill="#a01a42"/>
<circle cx="268.28" cy="338.81" r="1.65" fill="#a01a42"/>
<circle cx="273.35" cy="332.74" r="1.65" fill="#a01a42"/>
<circle cx="278.42" cy="335.77" r="1.65" fill="#a01a42"/>
<circle cx="283.49" cy="339.19" r="1.65" fill="#a01a42"/>
<circle cx="288.56" cy="338.43" r="1.65" fill="#a01a42"/>
<circle cx="293.63" cy="330.09" r="1.65" fill="#a01a42"/>
<circle cx="298.70" cy="329.33" r="1.65" fill="#a01a42"/>
<circle cx="303.77" cy="334.64" r="1.65" fill="#a01a42"/>
<circle cx="308.84" cy="335.02" r="1.65" fill="#a01a42"/>
<circle cx="313.91" cy="335.02" r="1.65" fill="#a01a42"/>
<circle cx="318.98" cy="339.57" r="1.65" fill="#a01a42"/>
<circle cx="324.05" cy="341.84" r="1.65" fill="#a01a42"/>
<circle cx="329.12" cy="328.57" r="1.65" fill="#a01a42"/>
<circle cx="334.19" cy="333.12" r="1.65" fill="#a01a42"/>
<circle cx="339.26" cy="338.05" r="1.65" fill="#a01a42"/>
<circle cx="344.33" cy="328.57" r="1.65" fill="#a01a42"/>
<circle cx="349.40" cy="327.81" r="1.65" fill="#a01a42"/>
<path d="M60.41 471.00V480.40M57.51 471.00H63.31M57.51 480.40H63.31" stroke="#335a56" stroke-width="0.9" fill="none"/>
<path d="M65.48 449.00V458.41M62.58 449.00H68.38M62.58 458.41H68.38" stroke="#335a56" stroke-width="0.9" fill="none"/>
<path d="M70.55 450.52V459.92M67.65 450.52H73.45M67.65 459.92H73.45" stroke="#335a56" stroke-width="0.9" fill="none"/>
<path d="M75.62 430.04V439.45M72.72 430.04H78.52M72.72 439.45H78.52" stroke="#335a56" stroke-width="0.9" fill="none"/>
<path d="M80.69 386.06V395.46M77.79 386.06H83.59M77.79 395.46H83.59" stroke="#335a56" stroke-width="0.9" fill="none"/>
<path d="M85.76 374.68V384.08M82.86 374.68H88.66M82.86 384.08H88.66" stroke="#335a56" stroke-width="0.9" fill="none"/>
<path d="M90.83 386.81V396.22M87.93 386.81H93.73M87.93 396.22H93.73" stroke="#335a56" stroke-width="0.9" fill="none"/>
<path d="M95.90 373.16V382.57M93.00 373.16H98.80M93.00 382.57H98.80" stroke="#335a56" stroke-width="0.9" fill="none"/>
<path d="M100.97 361.79V371.19M98.07 361.79H103.87M98.07 371.19H103.87" stroke="#335a56" stroke-width="0.9" fill="none"/>
<path d="M106.04 361.79V371.19M103.14 361.79H108.94M103.14 371.19H108.94" stroke="#335a56" stroke-width="0.9" fill="none"/>
<path d="M111.11 348.89V358.30M108.21 348.89H114.01M108.21 358.30H114.01" stroke="#335a56" stroke-width="0.9" fill="none"/>
<path d="M116.18 352.69V362.09M113.28 352.69H119.08M113.28 362.09H119.08" stroke="#335a56" stroke-width="0.9" fill="none"/>
<path d="M121.25 348.14V357.54M118.35 348.14H124.15M118.35 357.54H124.15" stroke="#335a56" stroke-width="0.9" fill="none"/>
<path d="M126.32 341.31V350.71M123.42 341.31H129.22M123.42 350.71H129.22" stroke="#335a56" stroke-width="0.9" fill="none"/>
<path d="M131.39 348.14V357.54M128.49 348.14H134.29M128.49 357.54H134.29" stroke="#335a56" stroke-width="0.9" fill="none"/>
<path d="M136.46 354.20V363.61M133.56 354.20H139.36M133.56 363.61H139.36" stroke="#335a56" stroke-width="0.9" fill="none"/>
<path d="M141.53 347.38V356.78M138.63 347.38H144.43M138.63 356.78H144.43" stroke="#335a56" stroke-width="0.9" fill="none"/>
<path d="M146.60 343.21V352.61M143.70 343.21H149.50M143.70 352.61H149.50" stroke="#335a56" stroke-width="0.9" fill="none"/>
<path d="M151.67 347.38V356.78M148.77 347.38H154.57M148.77 356.78H154.57" stroke="#335a56" stroke-width="0.9" fill="none"/>
<path d="M156.74 344.34V353.75M153.84 344.34H159.64M153.84 353.75H159.64" stroke="#335a56" stroke-width="0.9" fill="none"/>
<path d="M161.81 344.72V354.13M158.91 344.72H164.71M158.91 354.13H164.71" stroke="#335a56" stroke-width="0.9" fill="none"/>
<path d="M166.88 349.65V359.06M163.98 349.65H169.78M163.98 359.06H169.78" stroke="#335a56" stroke-width="0.9" fill="none"/>
<path d="M171.95 349.27V358.68M169.05 349.27H174.85M169.05 358.68H174.85" stroke="#335a56" stroke-width="0.9" fill="none"/>
<path d="M177.02 340.17V349.58M174.12 340.17H179.92M174.12 349.58H179.92" stroke="#335a56" stroke-width="0.9" fill="none"/>
<path d="M182.09 334.48V343.89M179.19 334.48H184.99M179.19 343.89H184.99" stroke="#335a56" stroke-width="0.9" fill="none"/>
<path d="M187.16 337.52V346.92M184.26 337.52H190.06M184.26 346.92H190.06" stroke="#335a56" stroke-width="0.9" fill="none"/>
<path d="M192.23 348.14V357.54M189.33 348.14H195.13M189.33 357.54H195.13" stroke="#335a56" stroke-width="0.9" fill="none"/>
<path d="M197.30 334.79V344.19M194.40 334.79H200.20M194.40 344.19H200.20" stroke="#335a56" stroke-width="0.9" fill="none"/>
<path d="M202.37 343.21V352.61M199.47 343.21H205.27M199.47 352.61H205.27" stroke="#335a56" stroke-width="0.9" fill="none"/>
<path d="M207.44 330.92V340.32M204.54 330.92H210.34M204.54 340.32H210.34" stroke="#335a56" stroke-width="0.9" fill="none"/>
<path d="M212.51 335.24V344.65M209.61 335.24H215.41M209.61 344.65H215.41" stroke="#335a56" stroke-width="0.9" fill="none"/>
<path d="M217.58 334.48V343.89M214.68 334.48H220.48M214.68 343.89H220.48" stroke="#335a56" stroke-width="0.9" fill="none"/>
<path d="M222.65 331.07V340.48M219.75 331.07H225.55M219.75 340.48H225.55" stroke="#335a56" stroke-width="0.9" fill="none"/>
<path d="M227.72 329.55V338.96M224.82 329.55H230.62M224.82 338.96H230.62" stroke="#335a56" stroke-width="0.9" fill="none"/>
<path d="M232.79 328.80V338.20M229.89 328.80H235.69M229.89 338.20H235.69" stroke="#335a56" stroke-width="0.9" fill="none"/>
<path d="M237.86 328.04V337.44M234.96 328.04H240.76M234.96 337.44H240.76" stroke="#335a56" stroke-width="0.9" fill="none"/>
<path d="M242.93 332.21V341.61M240.03 332.21H245.83M240.03 341.61H245.83" stroke="#335a56" stroke-width="0.9" fill="none"/>
<path d="M248.00 331.83V341.23M245.10 331.83H250.90M245.10 341.23H250.90" stroke="#335a56" stroke-width="0.9" fill="none"/>
<path d="M253.07 324.63V334.03M250.17 324.63H255.97M250.17 334.03H255.97" stroke="#335a56" stroke-width="0.9" fill="none"/>
<path d="M258.14 328.04V337.44M255.24 328.04H261.04M255.24 337.44H261.04" stroke="#335a56" stroke-width="0.9" fill="none"/>
<path d="M263.21 328.04V337.44M260.31 328.04H266.11M260.31 337.44H266.11" stroke="#335a56" stroke-width="0.9" fill="none"/>
<path d="M268.28 326.90V336.30M265.38 326.90H271.18M265.38 336.30H271.18" stroke="#335a56" stroke-width="0.9" fill="none"/>
<path d="M273.35 323.87V333.27M270.45 323.87H276.25M270.45 333.27H276.25" stroke="#335a56" stroke-width="0.9" fill="none"/>
<path d="M278.42 326.14V335.55M275.52 326.14H281.32M275.52 335.55H281.32" stroke="#335a56" stroke-width="0.9" fill="none"/>
<path d="M283.49 324.63V334.03M280.59 324.63H286.39M280.59 334.03H286.39" stroke="#335a56" stroke-width="0.9" fill="none"/>
<path d="M288.56 326.14V335.55M285.66 326.14H291.46M285.66 335.55H291.46" stroke="#335a56" stroke-width="0.9" fill="none"/>
<path d="M293.63 320.83V330.24M290.73 320.83H296.53M290.73 330.24H296.53" stroke="#335a56" stroke-width="0.9" fill="none"/>
<path d="M298.70 320.07V329.48M295.80 320.07H301.60M295.80 329.48H301.60" stroke="#335a56" stroke-width="0.9" fill="none"/>
<path d="M303.77 323.11V332.51M300.87 323.11H306.67M300.87 332.51H306.67" stroke="#335a56" stroke-width="0.9" fill="none"/>
<path d="M308.84 324.63V334.03M305.94 324.63H311.74M305.94 334.03H311.74" stroke="#335a56" stroke-width="0.9" fill="none"/>
<path d="M313.91 323.87V333.27M311.01 323.87H316.81M311.01 333.27H316.81" stroke="#335a56" stroke-width="0.9" fill="none"/>
<path d="M318.98 327.66V337.06M316.08 327.66H321.88M316.08 337.06H321.88" stroke="#335a56" stroke-width="0.9" fill="none"/>
<path d="M324.05 328.42V337.82M321.15 328.42H326.95M321.15 337.82H326.95" stroke="#335a56" stroke-width="0.9" fill="none"/>
<path d="M329.12 320.07V329.48M326.22 320.07H332.02M326.22 329.48H332.02" stroke="#335a56" stroke-width="0.9" fill="none"/>
<path d="M334.19 318.94V328.34M331.29 318.94H337.09M331.29 328.34H337.09" stroke="#335a56" stroke-width="0.9" fill="none"/>
<path d="M339.26 322.35V331.75M336.36 322.35H342.16M336.36 331.75H342.16" stroke="#335a56" stroke-width="0.9" fill="none"/>
<path d="M344.33 317.42V326.82M341.43 317.42H347.23M341.43 326.82H347.23" stroke="#335a56" stroke-width="0.9" fill="none"/>
<path d="M349.40 318.18V327.58M346.50 318.18H352.30M346.50 327.58H352.30" stroke="#335a56" stroke-width="0.9" fill="none"/>
<circle cx="60.41" cy="475.70" r="1.65" fill="#127064"/>
<circle cx="65.48" cy="453.70" r="1.65" fill="#127064"/>
<circle cx="70.55" cy="455.22" r="1.65" fill="#127064"/>
<circle cx="75.62" cy="434.74" r="1.65" fill="#127064"/>
<circle cx="80.69" cy="390.76" r="1.65" fill="#127064"/>
<circle cx="85.76" cy="379.38" r="1.65" fill="#127064"/>
<circle cx="90.83" cy="391.52" r="1.65" fill="#127064"/>
<circle cx="95.90" cy="377.86" r="1.65" fill="#127064"/>
<circle cx="100.97" cy="366.49" r="1.65" fill="#127064"/>
<circle cx="106.04" cy="366.49" r="1.65" fill="#127064"/>
<circle cx="111.11" cy="353.60" r="1.65" fill="#127064"/>
<circle cx="116.18" cy="357.39" r="1.65" fill="#127064"/>
<circle cx="121.25" cy="352.84" r="1.65" fill="#127064"/>
<circle cx="126.32" cy="346.01" r="1.65" fill="#127064"/>
<circle cx="131.39" cy="352.84" r="1.65" fill="#127064"/>
<circle cx="136.46" cy="358.90" r="1.65" fill="#127064"/>
<circle cx="141.53" cy="352.08" r="1.65" fill="#127064"/>
<circle cx="146.60" cy="347.91" r="1.65" fill="#127064"/>
<circle cx="151.67" cy="352.08" r="1.65" fill="#127064"/>
<circle cx="156.74" cy="349.05" r="1.65" fill="#127064"/>
<circle cx="161.81" cy="349.42" r="1.65" fill="#127064"/>
<circle cx="166.88" cy="354.35" r="1.65" fill="#127064"/>
<circle cx="171.95" cy="353.98" r="1.65" fill="#127064"/>
<circle cx="177.02" cy="344.87" r="1.65" fill="#127064"/>
<circle cx="182.09" cy="339.19" r="1.65" fill="#127064"/>
<circle cx="187.16" cy="342.22" r="1.65" fill="#127064"/>
<circle cx="192.23" cy="352.84" r="1.65" fill="#127064"/>
<circle cx="197.30" cy="339.49" r="1.65" fill="#127064"/>
<circle cx="202.37" cy="347.91" r="1.65" fill="#127064"/>
<circle cx="207.44" cy="335.62" r="1.65" fill="#127064"/>
<circle cx="212.51" cy="339.94" r="1.65" fill="#127064"/>
<circle cx="217.58" cy="339.19" r="1.65" fill="#127064"/>
<circle cx="222.65" cy="335.77" r="1.65" fill="#127064"/>
<circle cx="227.72" cy="334.26" r="1.65" fill="#127064"/>
<circle cx="232.79" cy="333.50" r="1.65" fill="#127064"/>
<circle cx="237.86" cy="332.74" r="1.65" fill="#127064"/>
<circle cx="242.93" cy="336.91" r="1.65" fill="#127064"/>
<circle cx="248.00" cy="336.53" r="1.65" fill="#127064"/>
<circle cx="253.07" cy="329.33" r="1.65" fill="#127064"/>
<circle cx="258.14" cy="332.74" r="1.65" fill="#127064"/>
<circle cx="263.21" cy="332.74" r="1.65" fill="#127064"/>
<circle cx="268.28" cy="331.60" r="1.65" fill="#127064"/>
<circle cx="273.35" cy="328.57" r="1.65" fill="#127064"/>
<circle cx="278.42" cy="330.84" r="1.65" fill="#127064"/>
<circle cx="283.49" cy="329.33" r="1.65" fill="#127064"/>
<circle cx="288.56" cy="330.84" r="1.65" fill="#127064"/>
<circle cx="293.63" cy="325.54" r="1.65" fill="#127064"/>
<circle cx="298.70" cy="324.78" r="1.65" fill="#127064"/>
<circle cx="303.77" cy="327.81" r="1.65" fill="#127064"/>
<circle cx="308.84" cy="329.33" r="1.65" fill="#127064"/>
<circle cx="313.91" cy="328.57" r="1.65" fill="#127064"/>
<circle cx="318.98" cy="332.36" r="1.65" fill="#127064"/>
<circle cx="324.05" cy="333.12" r="1.65" fill="#127064"/>
<circle cx="329.12" cy="324.78" r="1.65" fill="#127064"/>
<circle cx="334.19" cy="323.64" r="1.65" fill="#127064"/>
<circle cx="339.26" cy="327.05" r="1.65" fill="#127064"/>
<circle cx="344.33" cy="322.12" r="1.65" fill="#127064"/>
<circle cx="349.40" cy="322.88" r="1.65" fill="#127064"/>
<path d="M60.41 462.12V471.53M57.51 462.12H63.31M57.51 471.53H63.31" stroke="#463e32" stroke-width="0.9" fill="none"/>
<path d="M65.48 444.22V453.63M62.58 444.22H68.38M62.58 453.63H68.38" stroke="#463e32" stroke-width="0.9" fill="none"/>
<path d="M70.55 444.45V453.86M67.65 444.45H73.45M67.65 453.86H73.45" stroke="#463e32" stroke-width="0.9" fill="none"/>
<path d="M75.62 420.18V429.59M72.72 420.18H78.52M72.72 429.59H78.52" stroke="#463e32" stroke-width="0.9" fill="none"/>
<path d="M80.69 379.23V388.63M77.79 379.23H83.59M77.79 388.63H83.59" stroke="#463e32" stroke-width="0.9" fill="none"/>
<path d="M85.76 372.40V381.81M82.86 372.40H88.66M82.86 381.81H88.66" stroke="#463e32" stroke-width="0.9" fill="none"/>
<path d="M90.83 382.26V391.67M87.93 382.26H93.73M87.93 391.67H93.73" stroke="#463e32" stroke-width="0.9" fill="none"/>
<path d="M95.90 370.13V379.53M93.00 370.13H98.80M93.00 379.53H98.80" stroke="#463e32" stroke-width="0.9" fill="none"/>
<path d="M100.97 358.75V368.16M98.07 358.75H103.87M98.07 368.16H103.87" stroke="#463e32" stroke-width="0.9" fill="none"/>
<path d="M106.04 357.99V367.40M103.14 357.99H108.94M103.14 367.40H108.94" stroke="#463e32" stroke-width="0.9" fill="none"/>
<path d="M111.11 346.24V355.64M108.21 346.24H114.01M108.21 355.64H114.01" stroke="#463e32" stroke-width="0.9" fill="none"/>
<path d="M116.18 348.89V358.30M113.28 348.89H119.08M113.28 358.30H119.08" stroke="#463e32" stroke-width="0.9" fill="none"/>
<path d="M121.25 345.86V355.26M118.35 345.86H124.15M118.35 355.26H124.15" stroke="#463e32" stroke-width="0.9" fill="none"/>
<path d="M126.32 344.72V354.13M123.42 344.72H129.22M123.42 354.13H129.22" stroke="#463e32" stroke-width="0.9" fill="none"/>
<path d="M131.39 345.86V355.26M128.49 345.86H134.29M128.49 355.26H134.29" stroke="#463e32" stroke-width="0.9" fill="none"/>
<path d="M136.46 351.17V360.57M133.56 351.17H139.36M133.56 360.57H139.36" stroke="#463e32" stroke-width="0.9" fill="none"/>
<path d="M141.53 344.72V354.13M138.63 344.72H144.43M138.63 354.13H144.43" stroke="#463e32" stroke-width="0.9" fill="none"/>
<path d="M146.60 341.31V350.71M143.70 341.31H149.50M143.70 350.71H149.50" stroke="#463e32" stroke-width="0.9" fill="none"/>
<path d="M151.67 344.72V354.13M148.77 344.72H154.57M148.77 354.13H154.57" stroke="#463e32" stroke-width="0.9" fill="none"/>
<path d="M156.74 341.31V350.71M153.84 341.31H159.64M153.84 350.71H159.64" stroke="#463e32" stroke-width="0.9" fill="none"/>
<path d="M161.81 342.07V351.47M158.91 342.07H164.71M158.91 351.47H164.71" stroke="#463e32" stroke-width="0.9" fill="none"/>
<path d="M166.88 347.38V356.78M163.98 347.38H169.78M163.98 356.78H169.78" stroke="#463e32" stroke-width="0.9" fill="none"/>
<path d="M171.95 345.48V354.89M169.05 345.48H174.85M169.05 354.89H174.85" stroke="#463e32" stroke-width="0.9" fill="none"/>
<path d="M177.02 337.90V347.30M174.12 337.90H179.92M174.12 347.30H179.92" stroke="#463e32" stroke-width="0.9" fill="none"/>
<path d="M182.09 332.21V341.61M179.19 332.21H184.99M179.19 341.61H184.99" stroke="#463e32" stroke-width="0.9" fill="none"/>
<path d="M187.16 334.48V343.89M184.26 334.48H190.06M184.26 343.89H190.06" stroke="#463e32" stroke-width="0.9" fill="none"/>
<path d="M192.23 345.48V354.89M189.33 345.48H195.13M189.33 354.89H195.13" stroke="#463e32" stroke-width="0.9" fill="none"/>
<path d="M197.30 330.92V340.32M194.40 330.92H200.20M194.40 340.32H200.20" stroke="#463e32" stroke-width="0.9" fill="none"/>
<path d="M202.37 335.24V344.65M199.47 335.24H205.27M199.47 344.65H205.27" stroke="#463e32" stroke-width="0.9" fill="none"/>
<path d="M207.44 331.07V340.48M204.54 331.07H210.34M204.54 340.48H210.34" stroke="#463e32" stroke-width="0.9" fill="none"/>
<path d="M212.51 329.93V339.34M209.61 329.93H215.41M209.61 339.34H215.41" stroke="#463e32" stroke-width="0.9" fill="none"/>
<path d="M217.58 329.93V339.34M214.68 329.93H220.48M214.68 339.34H220.48" stroke="#463e32" stroke-width="0.9" fill="none"/>
<path d="M222.65 327.28V336.68M219.75 327.28H225.55M219.75 336.68H225.55" stroke="#463e32" stroke-width="0.9" fill="none"/>
<path d="M227.72 325.00V334.41M224.82 325.00H230.62M224.82 334.41H230.62" stroke="#463e32" stroke-width="0.9" fill="none"/>
<path d="M232.79 324.63V334.03M229.89 324.63H235.69M229.89 334.03H235.69" stroke="#463e32" stroke-width="0.9" fill="none"/>
<path d="M237.86 322.35V331.75M234.96 322.35H240.76M234.96 331.75H240.76" stroke="#463e32" stroke-width="0.9" fill="none"/>
<path d="M242.93 328.04V337.44M240.03 328.04H245.83M240.03 337.44H245.83" stroke="#463e32" stroke-width="0.9" fill="none"/>
<path d="M248.00 325.76V335.17M245.10 325.76H250.90M245.10 335.17H250.90" stroke="#463e32" stroke-width="0.9" fill="none"/>
<path d="M253.07 320.07V329.48M250.17 320.07H255.97M250.17 329.48H255.97" stroke="#463e32" stroke-width="0.9" fill="none"/>
<path d="M258.14 323.87V333.27M255.24 323.87H261.04M255.24 333.27H261.04" stroke="#463e32" stroke-width="0.9" fill="none"/>
<path d="M263.21 323.87V333.27M260.31 323.87H266.11M260.31 333.27H266.11" stroke="#463e32" stroke-width="0.9" fill="none"/>
<path d="M268.28 323.11V332.51M265.38 323.11H271.18M265.38 332.51H271.18" stroke="#463e32" stroke-width="0.9" fill="none"/>
<path d="M273.35 319.32V328.72M270.45 319.32H276.25M270.45 328.72H276.25" stroke="#463e32" stroke-width="0.9" fill="none"/>
<path d="M278.42 322.35V331.75M275.52 322.35H281.32M275.52 331.75H281.32" stroke="#463e32" stroke-width="0.9" fill="none"/>
<path d="M283.49 318.56V327.96M280.59 318.56H286.39M280.59 327.96H286.39" stroke="#463e32" stroke-width="0.9" fill="none"/>
<path d="M288.56 323.11V332.51M285.66 323.11H291.46M285.66 332.51H291.46" stroke="#463e32" stroke-width="0.9" fill="none"/>
<path d="M293.63 315.90V325.31M290.73 315.90H296.53M290.73 325.31H296.53" stroke="#463e32" stroke-width="0.9" fill="none"/>
<path d="M298.70 315.90V325.31M295.80 315.90H301.60M295.80 325.31H301.60" stroke="#463e32" stroke-width="0.9" fill="none"/>
<path d="M303.77 317.42V326.82M300.87 317.42H306.67M300.87 326.82H306.67" stroke="#463e32" stroke-width="0.9" fill="none"/>
<path d="M308.84 319.32V328.72M305.94 319.32H311.74M305.94 328.72H311.74" stroke="#463e32" stroke-width="0.9" fill="none"/>
<path d="M313.91 320.07V329.48M311.01 320.07H316.81M311.01 329.48H316.81" stroke="#463e32" stroke-width="0.9" fill="none"/>
<path d="M318.98 320.83V330.24M316.08 320.83H321.88M316.08 330.24H321.88" stroke="#463e32" stroke-width="0.9" fill="none"/>
<path d="M324.05 323.11V332.51M321.15 323.11H326.95M321.15 332.51H326.95" stroke="#463e32" stroke-width="0.9" fill="none"/>
<path d="M329.12 317.42V326.82M326.22 317.42H332.02M326.22 326.82H332.02" stroke="#463e32" stroke-width="0.9" fill="none"/>
<path d="M334.19 313.63V323.03M331.29 313.63H337.09M331.29 323.03H337.09" stroke="#463e32" stroke-width="0.9" fill="none"/>
<path d="M339.26 320.83V330.24M336.36 320.83H342.16M336.36 330.24H342.16" stroke="#463e32" stroke-width="0.9" fill="none"/>
<path d="M344.33 313.63V323.03M341.43 313.63H347.23M341.43 323.03H347.23" stroke="#463e32" stroke-width="0.9" fill="none"/>
<path d="M349.40 313.63V323.03M346.50 313.63H352.30M346.50 323.03H352.30" stroke="#463e32" stroke-width="0.9" fill="none"/>
<circle cx="60.41" cy="466.83" r="1.65" fill="#452e14"/>
<circle cx="65.48" cy="448.93" r="1.65" fill="#452e14"/>
<circle cx="70.55" cy="449.15" r="1.65" fill="#452e14"/>
<circle cx="75.62" cy="424.89" r="1.65" fill="#452e14"/>
<circle cx="80.69" cy="383.93" r="1.65" fill="#452e14"/>
<circle cx="85.76" cy="377.11" r="1.65" fill="#452e14"/>
<circle cx="90.83" cy="386.97" r="1.65" fill="#452e14"/>
<circle cx="95.90" cy="374.83" r="1.65" fill="#452e14"/>
<circle cx="100.97" cy="363.46" r="1.65" fill="#452e14"/>
<circle cx="106.04" cy="362.70" r="1.65" fill="#452e14"/>
<circle cx="111.11" cy="350.94" r="1.65" fill="#452e14"/>
<circle cx="116.18" cy="353.60" r="1.65" fill="#452e14"/>
<circle cx="121.25" cy="350.56" r="1.65" fill="#452e14"/>
<circle cx="126.32" cy="349.42" r="1.65" fill="#452e14"/>
<circle cx="131.39" cy="350.56" r="1.65" fill="#452e14"/>
<circle cx="136.46" cy="355.87" r="1.65" fill="#452e14"/>
<circle cx="141.53" cy="349.42" r="1.65" fill="#452e14"/>
<circle cx="146.60" cy="346.01" r="1.65" fill="#452e14"/>
<circle cx="151.67" cy="349.42" r="1.65" fill="#452e14"/>
<circle cx="156.74" cy="346.01" r="1.65" fill="#452e14"/>
<circle cx="161.81" cy="346.77" r="1.65" fill="#452e14"/>
<circle cx="166.88" cy="352.08" r="1.65" fill="#452e14"/>
<circle cx="171.95" cy="350.18" r="1.65" fill="#452e14"/>
<circle cx="177.02" cy="342.60" r="1.65" fill="#452e14"/>
<circle cx="182.09" cy="336.91" r="1.65" fill="#452e14"/>
<circle cx="187.16" cy="339.19" r="1.65" fill="#452e14"/>
<circle cx="192.23" cy="350.18" r="1.65" fill="#452e14"/>
<circle cx="197.30" cy="335.62" r="1.65" fill="#452e14"/>
<circle cx="202.37" cy="339.94" r="1.65" fill="#452e14"/>
<circle cx="207.44" cy="335.77" r="1.65" fill="#452e14"/>
<circle cx="212.51" cy="334.64" r="1.65" fill="#452e14"/>
<circle cx="217.58" cy="334.64" r="1.65" fill="#452e14"/>
<circle cx="222.65" cy="331.98" r="1.65" fill="#452e14"/>
<circle cx="227.72" cy="329.71" r="1.65" fill="#452e14"/>
<circle cx="232.79" cy="329.33" r="1.65" fill="#452e14"/>
<circle cx="237.86" cy="327.05" r="1.65" fill="#452e14"/>
<circle cx="242.93" cy="332.74" r="1.65" fill="#452e14"/>
<circle cx="248.00" cy="330.46" r="1.65" fill="#452e14"/>
<circle cx="253.07" cy="324.78" r="1.65" fill="#452e14"/>
<circle cx="258.14" cy="328.57" r="1.65" fill="#452e14"/>
<circle cx="263.21" cy="328.57" r="1.65" fill="#452e14"/>
<circle cx="268.28" cy="327.81" r="1.65" fill="#452e14"/>
<circle cx="273.35" cy="324.02" r="1.65" fill="#452e14"/>
<circle cx="278.42" cy="327.05" r="1.65" fill="#452e14"/>
<circle cx="283.49" cy="323.26" r="1.65" fill="#452e14"/>
<circle cx="288.56" cy="327.81" r="1.65" fill="#452e14"/>
<circle cx="293.63" cy="320.61" r="1.65" fill="#452e14"/>
<circle cx="298.70" cy="320.61" r="1.65" fill="#452e14"/>
<circle cx="303.77" cy="322.12" r="1.65" fill="#452e14"/>
<circle cx="308.84" cy="324.02" r="1.65" fill="#452e14"/>
<circle cx="313.91" cy="324.78" r="1.65" fill="#452e14"/>
<circle cx="318.98" cy="325.54" r="1.65" fill="#452e14"/>
<circle cx="324.05" cy="327.81" r="1.65" fill="#452e14"/>
<circle cx="329.12" cy="322.12" r="1.65" fill="#452e14"/>
<circle cx="334.19" cy="318.33" r="1.65" fill="#452e14"/>
<circle cx="339.26" cy="325.54" r="1.65" fill="#452e14"/>
<circle cx="344.33" cy="318.33" r="1.65" fill="#452e14"/>
<circle cx="349.40" cy="318.33" r="1.65" fill="#452e14"/>
<rect x="40.8" y="301.5" width="313.8" height="195.4" fill="none" stroke="#555" stroke-width="1.3"/>
<line x1="37" x2="40.8" y1="493.90" y2="493.90" stroke="#555" stroke-width="1"/>
<text x="34.2" y="496.45" font-size="7.3" text-anchor="end" fill="#333" stroke="#333" stroke-width="0.25">70</text>
<line x1="37" x2="40.8" y1="455.98" y2="455.98" stroke="#555" stroke-width="1"/>
<text x="34.2" y="458.53" font-size="7.3" text-anchor="end" fill="#333" stroke="#333" stroke-width="0.25">75</text>
<line x1="37" x2="40.8" y1="418.06" y2="418.06" stroke="#555" stroke-width="1"/>
<text x="34.2" y="420.61" font-size="7.3" text-anchor="end" fill="#333" stroke="#333" stroke-width="0.25">80</text>
<line x1="37" x2="40.8" y1="380.14" y2="380.14" stroke="#555" stroke-width="1"/>
<text x="34.2" y="382.69" font-size="7.3" text-anchor="end" fill="#333" stroke="#333" stroke-width="0.25">85</text>
<line x1="37" x2="40.8" y1="342.22" y2="342.22" stroke="#555" stroke-width="1"/>
<text x="34.2" y="344.77" font-size="7.3" text-anchor="end" fill="#333" stroke="#333" stroke-width="0.25">90</text>
<line x1="37" x2="40.8" y1="304.30" y2="304.30" stroke="#555" stroke-width="1"/>
<text x="34.2" y="306.85" font-size="7.3" text-anchor="end" fill="#333" stroke="#333" stroke-width="0.25">95</text>
<line x1="45.20" x2="45.20" y1="496.9" y2="500.8" stroke="#555" stroke-width="1"/>
<text x="45.20" y="509.0" font-size="7.3" text-anchor="middle" fill="#333" stroke="#333" stroke-width="0.25">0</text>
<line x1="95.90" x2="95.90" y1="496.9" y2="500.8" stroke="#555" stroke-width="1"/>
<text x="95.90" y="509.0" font-size="7.3" text-anchor="middle" fill="#333" stroke="#333" stroke-width="0.25">10</text>
<line x1="146.60" x2="146.60" y1="496.9" y2="500.8" stroke="#555" stroke-width="1"/>
<text x="146.60" y="509.0" font-size="7.3" text-anchor="middle" fill="#333" stroke="#333" stroke-width="0.25">20</text>
<line x1="197.30" x2="197.30" y1="496.9" y2="500.8" stroke="#555" stroke-width="1"/>
<text x="197.30" y="509.0" font-size="7.3" text-anchor="middle" fill="#333" stroke="#333" stroke-width="0.25">30</text>
<line x1="248.00" x2="248.00" y1="496.9" y2="500.8" stroke="#555" stroke-width="1"/>
<text x="248.00" y="509.0" font-size="7.3" text-anchor="middle" fill="#333" stroke="#333" stroke-width="0.25">40</text>
<line x1="298.70" x2="298.70" y1="496.9" y2="500.8" stroke="#555" stroke-width="1"/>
<text x="298.70" y="509.0" font-size="7.3" text-anchor="middle" fill="#333" stroke="#333" stroke-width="0.25">50</text>
<line x1="349.40" x2="349.40" y1="496.9" y2="500.8" stroke="#555" stroke-width="1"/>
<text x="349.40" y="509.0" font-size="7.3" text-anchor="middle" fill="#333" stroke="#333" stroke-width="0.25">60</text>
<text transform="translate(197.5 523) scale(0.93 1)" font-size="8.6" text-anchor="middle" fill="#222" stroke="#222" stroke-width="0.22">Number of Features</text>
<text transform="translate(16.4 399) rotate(-90) scale(0.955 1)" x="0" y="0" font-size="8.7" text-anchor="middle" fill="#222" stroke="#222" stroke-width="0.22">Classification Accuracy</text>
<rect x="120.7" y="531.5" width="153.4" height="9.5" fill="none" stroke="#666" stroke-width="1"/>
<text x="123.6" y="538.8" font-size="7.5" fill="#222" stroke="#222" stroke-width="0.2">Algorithm</text>
<circle cx="170.6" cy="536.7" r="1.9" fill="#2418a0"/>
<text x="177.9" y="539.1" font-size="6.5" fill="#222" stroke="#222" stroke-width="0.22">KNN</text>
<circle cx="200.3" cy="536.7" r="1.9" fill="#a01a42"/>
<text x="207.1" y="539.1" font-size="6.5" fill="#222" stroke="#222" stroke-width="0.22">BAG</text>
<circle cx="230.3" cy="536.7" r="1.9" fill="#127064"/>
<text x="235.7" y="539.1" font-size="6.5" fill="#222" stroke="#222" stroke-width="0.22">RF</text>
<circle cx="256.0" cy="536.7" r="1.9" fill="#452e14"/>
<text x="260.3" y="539.1" font-size="6.5" fill="#222" stroke="#222" stroke-width="0.22">ET</text>
</g>
</svg>
</body></html>
